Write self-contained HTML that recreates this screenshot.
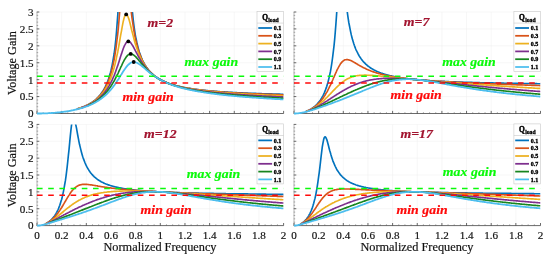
<!DOCTYPE html>
<html><head><meta charset="utf-8"><title>LLC gain curves</title>
<style>
html,body{margin:0;padding:0;background:#fff;}
body{width:550px;height:261px;overflow:hidden;}
svg{display:block;}
svg text{font-family:"Liberation Serif","DejaVu Serif",serif;}
.tk{font-size:11.1px;fill:#111;stroke:#111;stroke-width:0.18px;}
.al{font-size:12.2px;fill:#111;stroke:#111;stroke-width:0.18px;}
.bi{font-weight:bold;font-style:italic;font-size:13.8px;stroke-width:0.2px;letter-spacing:0.05px;}
.lg{font-size:6px;font-weight:bold;fill:#000;stroke:#000;stroke-width:0.35px;}
</style></head><body>
<svg width="550" height="261" viewBox="0 0 550 261">
<rect width="550" height="261" fill="#fff"/>
<defs>
<clipPath id="cp00"><rect x="37.0" y="12.0" width="246.60000000000002" height="103.0"/></clipPath>
<clipPath id="cp01"><rect x="294.0" y="12.0" width="246.5" height="103.0"/></clipPath>
<clipPath id="cp10"><rect x="37.0" y="124.4" width="246.60000000000002" height="102.69999999999999"/></clipPath>
<clipPath id="cp11"><rect x="294.0" y="124.4" width="246.5" height="102.69999999999999"/></clipPath>
</defs>
<g>
<path d="M61.66 12.0V113.5M86.32 12.0V113.5M110.98 12.0V113.5M135.64 12.0V113.5M160.30 12.0V113.5M184.96 12.0V113.5M209.62 12.0V113.5M234.28 12.0V113.5M258.94 12.0V113.5M37.0 96.58H283.6M37.0 79.67H283.6M37.0 62.75H283.6M37.0 45.83H283.6M37.0 28.92H283.6M37.0 12.00H283.6" stroke="#efefef" stroke-width="0.5" fill="none"/>
<path d="M37.0 12.0V113.5" stroke="#8c8c8c" stroke-width="0.6" fill="none"/>
<path d="M37.0 113.5H283.6M37.00 113.5v-2.6M61.66 113.5v-2.6M86.32 113.5v-2.6M110.98 113.5v-2.6M135.64 113.5v-2.6M160.30 113.5v-2.6M184.96 113.5v-2.6M209.62 113.5v-2.6M234.28 113.5v-2.6M258.94 113.5v-2.6M283.60 113.5v-2.6M36.7 113.50h2.6M36.7 96.58h2.6M36.7 79.67h2.6M36.7 62.75h2.6M36.7 45.83h2.6M36.7 28.92h2.6M36.7 12.00h2.6" stroke="#3a3a3a" stroke-width="0.75" fill="none"/>
<path d="M43.16 113.5v-1.4M49.33 113.5v-1.4M55.50 113.5v-1.4M67.83 113.5v-1.4M73.99 113.5v-1.4M80.16 113.5v-1.4M92.49 113.5v-1.4M98.65 113.5v-1.4M104.82 113.5v-1.4M117.15 113.5v-1.4M123.31 113.5v-1.4M129.48 113.5v-1.4M141.81 113.5v-1.4M147.97 113.5v-1.4M154.14 113.5v-1.4M166.47 113.5v-1.4M172.63 113.5v-1.4M178.80 113.5v-1.4M191.12 113.5v-1.4M197.29 113.5v-1.4M203.46 113.5v-1.4M215.79 113.5v-1.4M221.95 113.5v-1.4M228.12 113.5v-1.4M240.45 113.5v-1.4M246.61 113.5v-1.4M252.78 113.5v-1.4M265.11 113.5v-1.4M271.27 113.5v-1.4M277.44 113.5v-1.4M36.7 110.12h1.5M36.7 106.73h1.5M36.7 103.35h1.5M36.7 99.97h1.5M36.7 93.20h1.5M36.7 89.82h1.5M36.7 86.43h1.5M36.7 83.05h1.5M36.7 76.28h1.5M36.7 72.90h1.5M36.7 69.52h1.5M36.7 66.13h1.5M36.7 59.37h1.5M36.7 55.98h1.5M36.7 52.60h1.5M36.7 49.22h1.5M36.7 42.45h1.5M36.7 39.07h1.5M36.7 35.68h1.5M36.7 32.30h1.5M36.7 25.53h1.5M36.7 22.15h1.5M36.7 18.77h1.5M36.7 15.38h1.5" stroke="#555" stroke-width="0.45" fill="none"/>
<g clip-path="url(#cp00)" fill="none" stroke-width="1.65" stroke-linejoin="round">
<polyline stroke="#0072BD" points="76.5,109.1 77.1,109.0 77.7,108.8 78.3,108.6 78.9,108.4 79.5,108.2 80.2,108.0 80.8,107.8 81.4,107.6 82.0,107.4 82.6,107.1 83.2,106.9 83.9,106.6 84.5,106.4 85.1,106.1 85.7,105.8 86.3,105.5 86.9,105.3 87.6,104.9 88.2,104.6 88.8,104.3 89.4,103.9 90.0,103.6 90.6,103.2 91.3,102.8 91.9,102.4 92.5,102.0 93.1,101.6 93.7,101.1 94.3,100.6 95.0,100.1 95.6,99.6 96.2,99.1 96.8,98.5 97.4,97.9 98.0,97.3 98.7,96.6 99.3,95.9 99.9,95.2 100.5,94.5 101.1,93.6 101.7,92.8 102.3,91.9 103.0,90.9 103.6,89.9 104.2,88.9 104.8,87.7 105.4,86.5 106.0,85.2 106.7,83.8 107.3,82.3 107.9,80.7 108.5,79.0 109.1,77.1 109.7,75.0 110.4,72.8 111.0,70.4 111.6,67.7 112.2,64.8 112.8,61.6 113.4,58.0 114.1,54.0 114.7,49.5 115.3,44.3 115.9,38.5 116.5,31.7 117.1,23.9 117.8,14.6 118.4,3.6 119.0,-8.3 119.6,-8.3 120.2,-8.3 120.8,-8.3 121.5,-8.3 122.1,-8.3 122.7,-8.3 123.3,-8.3 123.9,-8.3 124.5,-8.3 125.2,-8.3 125.8,-8.3 126.4,-8.3 127.0,-8.3 127.6,-8.3 128.2,-8.3 128.9,-8.3 129.5,-8.3 130.1,-8.3 130.7,-8.3 131.3,-0.7 131.9,7.0 132.6,13.7 133.2,19.5 133.8,24.6 134.4,29.0 135.0,33.0 135.6,36.6 136.3,39.8 136.9,42.7 137.5,45.3 138.1,47.7 138.7,49.9 139.3,52.0 140.0,53.8 140.6,55.5 141.2,57.2 141.8,58.6 142.4,60.0 143.0,61.3 143.7,62.6 144.3,63.7 144.9,64.8 145.5,65.8 146.1,66.7 146.7,67.6 147.4,68.5 148.0,69.3 148.6,70.1 149.2,70.8 149.8,71.5 150.4,72.2 151.1,72.8 151.7,73.4 152.3,74.0 152.9,74.5 153.5,75.1 154.1,75.6 154.8,76.1 155.4,76.5 156.0,77.0 156.6,77.4 157.2,77.8 157.8,78.2 158.5,78.6 159.1,79.0 159.7,79.3 160.3,79.7 160.9,80.0 161.5,80.3 162.1,80.6 162.8,80.9 163.4,81.2 164.0,81.5 164.6,81.8 165.2,82.0 165.8,82.3 166.5,82.5 167.1,82.8 167.7,83.0 168.3,83.2 168.9,83.5 169.5,83.7 170.2,83.9 170.8,84.1 171.4,84.3 172.0,84.5 172.6,84.7 173.2,84.9 173.9,85.0 174.5,85.2 175.1,85.4 175.7,85.5 176.3,85.7 176.9,85.9 177.6,86.0 178.2,86.2 178.8,86.3 179.4,86.4 180.0,86.6 180.6,86.7 181.3,86.9 181.9,87.0 182.5,87.1 183.1,87.2 183.7,87.4 184.3,87.5 185.0,87.6 185.6,87.7 186.2,87.8 186.8,87.9 187.4,88.0 188.0,88.1 188.7,88.2 189.3,88.3 189.9,88.4 190.5,88.5 191.1,88.6 191.7,88.7 192.4,88.8 193.0,88.9 193.6,89.0 194.2,89.1 194.8,89.2 195.4,89.3 196.1,89.3 196.7,89.4 197.3,89.5 197.9,89.6 198.5,89.6 199.1,89.7 199.8,89.8 200.4,89.9 201.0,89.9 201.6,90.0 202.2,90.1 202.8,90.1 203.5,90.2 204.1,90.3 204.7,90.3 205.3,90.4 205.9,90.5 206.5,90.5 207.2,90.6 207.8,90.6 208.4,90.7 209.0,90.8 209.6,90.8 210.2,90.9 210.9,90.9 211.5,91.0 212.1,91.0 212.7,91.1 213.3,91.1 213.9,91.2 214.6,91.2 215.2,91.3 215.8,91.3 216.4,91.4 217.0,91.4 217.6,91.5 218.3,91.5 218.9,91.6 219.5,91.6 220.1,91.7 220.7,91.7 221.3,91.7 222.0,91.8 222.6,91.8 223.2,91.9 223.8,91.9 224.4,91.9 225.0,92.0 225.6,92.0 226.3,92.1 226.9,92.1 227.5,92.1 228.1,92.2 228.7,92.2 229.3,92.2 230.0,92.3 230.6,92.3 231.2,92.3 231.8,92.4 232.4,92.4 233.0,92.5 233.7,92.5 234.3,92.5 234.9,92.5 235.5,92.6 236.1,92.6 236.7,92.6 237.4,92.7 238.0,92.7 238.6,92.7 239.2,92.8 239.8,92.8 240.4,92.8 241.1,92.8 241.7,92.9 242.3,92.9 242.9,92.9 243.5,93.0 244.1,93.0 244.8,93.0 245.4,93.0 246.0,93.1 246.6,93.1 247.2,93.1 247.8,93.1 248.5,93.2 249.1,93.2 249.7,93.2 250.3,93.2 250.9,93.3 251.5,93.3 252.2,93.3 252.8,93.3 253.4,93.4 254.0,93.4 254.6,93.4 255.2,93.4 255.9,93.4 256.5,93.5 257.1,93.5 257.7,93.5 258.3,93.5 258.9,93.6 259.6,93.6 260.2,93.6 260.8,93.6 261.4,93.6 262.0,93.7 262.6,93.7 263.3,93.7 263.9,93.7 264.5,93.7 265.1,93.7 265.7,93.8 266.3,93.8 267.0,93.8 267.6,93.8 268.2,93.8 268.8,93.9 269.4,93.9 270.0,93.9 270.7,93.9 271.3,93.9 271.9,93.9 272.5,94.0 273.1,94.0 273.7,94.0 274.4,94.0 275.0,94.0 275.6,94.0 276.2,94.1 276.8,94.1 277.4,94.1 278.1,94.1 278.7,94.1 279.3,94.1 279.9,94.1 280.5,94.2 281.1,94.2 281.8,94.2 282.4,94.2 283.0,94.2 283.6,94.2"/>
<polyline stroke="#D95319" points="77.1,109.0 77.7,108.8 78.3,108.6 78.9,108.4 79.5,108.3 80.2,108.1 80.8,107.8 81.4,107.6 82.0,107.4 82.6,107.2 83.2,106.9 83.9,106.7 84.5,106.4 85.1,106.2 85.7,105.9 86.3,105.6 86.9,105.3 87.6,105.0 88.2,104.7 88.8,104.4 89.4,104.1 90.0,103.7 90.6,103.3 91.3,103.0 91.9,102.6 92.5,102.2 93.1,101.7 93.7,101.3 94.3,100.8 95.0,100.4 95.6,99.9 96.2,99.3 96.8,98.8 97.4,98.2 98.0,97.6 98.7,97.0 99.3,96.3 99.9,95.6 100.5,94.9 101.1,94.2 101.7,93.4 102.3,92.5 103.0,91.6 103.6,90.7 104.2,89.7 104.8,88.6 105.4,87.5 106.0,86.3 106.7,85.0 107.3,83.7 107.9,82.2 108.5,80.7 109.1,79.0 109.7,77.3 110.4,75.3 111.0,73.3 111.6,71.0 112.2,68.6 112.8,66.0 113.4,63.1 114.1,59.9 114.7,56.5 115.3,52.7 115.9,48.6 116.5,44.0 117.1,38.9 117.8,33.3 118.4,27.1 119.0,20.2 119.6,12.7 120.2,4.6 120.8,-4.1 121.5,-8.3 122.1,-8.3 122.7,-8.3 123.3,-8.3 123.9,-8.3 124.5,-8.3 125.2,-8.3 125.8,-8.3 126.4,-8.3 127.0,-8.3 127.6,-8.3 128.2,-8.3 128.9,-8.3 129.5,-6.1 130.1,0.4 130.7,6.5 131.3,12.1 131.9,17.2 132.6,21.8 133.2,26.0 133.8,29.9 134.4,33.4 135.0,36.7 135.6,39.6 136.3,42.3 136.9,44.8 137.5,47.1 138.1,49.3 138.7,51.2 139.3,53.1 140.0,54.8 140.6,56.4 141.2,57.9 141.8,59.2 142.4,60.6 143.0,61.8 143.7,62.9 144.3,64.0 144.9,65.1 145.5,66.0 146.1,67.0 146.7,67.8 147.4,68.7 148.0,69.4 148.6,70.2 149.2,70.9 149.8,71.6 150.4,72.2 151.1,72.9 151.7,73.5 152.3,74.0 152.9,74.6 153.5,75.1 154.1,75.6 154.8,76.1 155.4,76.5 156.0,77.0 156.6,77.4 157.2,77.8 157.8,78.2 158.5,78.6 159.1,79.0 159.7,79.3 160.3,79.7 160.9,80.0 161.5,80.3 162.1,80.6 162.8,80.9 163.4,81.2 164.0,81.5 164.6,81.8 165.2,82.0 165.8,82.3 166.5,82.6 167.1,82.8 167.7,83.0 168.3,83.3 168.9,83.5 169.5,83.7 170.2,83.9 170.8,84.1 171.4,84.3 172.0,84.5 172.6,84.7 173.2,84.9 173.9,85.1 174.5,85.2 175.1,85.4 175.7,85.6 176.3,85.7 176.9,85.9 177.6,86.1 178.2,86.2 178.8,86.4 179.4,86.5 180.0,86.6 180.6,86.8 181.3,86.9 181.9,87.1 182.5,87.2 183.1,87.3 183.7,87.4 184.3,87.6 185.0,87.7 185.6,87.8 186.2,87.9 186.8,88.0 187.4,88.1 188.0,88.2 188.7,88.3 189.3,88.4 189.9,88.5 190.5,88.6 191.1,88.7 191.7,88.8 192.4,88.9 193.0,89.0 193.6,89.1 194.2,89.2 194.8,89.3 195.4,89.4 196.1,89.5 196.7,89.5 197.3,89.6 197.9,89.7 198.5,89.8 199.1,89.9 199.8,89.9 200.4,90.0 201.0,90.1 201.6,90.2 202.2,90.2 202.8,90.3 203.5,90.4 204.1,90.4 204.7,90.5 205.3,90.6 205.9,90.6 206.5,90.7 207.2,90.8 207.8,90.8 208.4,90.9 209.0,90.9 209.6,91.0 210.2,91.1 210.9,91.1 211.5,91.2 212.1,91.2 212.7,91.3 213.3,91.3 213.9,91.4 214.6,91.4 215.2,91.5 215.8,91.5 216.4,91.6 217.0,91.6 217.6,91.7 218.3,91.7 218.9,91.8 219.5,91.8 220.1,91.9 220.7,91.9 221.3,92.0 222.0,92.0 222.6,92.1 223.2,92.1 223.8,92.2 224.4,92.2 225.0,92.2 225.6,92.3 226.3,92.3 226.9,92.4 227.5,92.4 228.1,92.4 228.7,92.5 229.3,92.5 230.0,92.6 230.6,92.6 231.2,92.6 231.8,92.7 232.4,92.7 233.0,92.7 233.7,92.8 234.3,92.8 234.9,92.9 235.5,92.9 236.1,92.9 236.7,93.0 237.4,93.0 238.0,93.0 238.6,93.1 239.2,93.1 239.8,93.1 240.4,93.1 241.1,93.2 241.7,93.2 242.3,93.2 242.9,93.3 243.5,93.3 244.1,93.3 244.8,93.4 245.4,93.4 246.0,93.4 246.6,93.4 247.2,93.5 247.8,93.5 248.5,93.5 249.1,93.6 249.7,93.6 250.3,93.6 250.9,93.6 251.5,93.7 252.2,93.7 252.8,93.7 253.4,93.7 254.0,93.8 254.6,93.8 255.2,93.8 255.9,93.8 256.5,93.9 257.1,93.9 257.7,93.9 258.3,93.9 258.9,94.0 259.6,94.0 260.2,94.0 260.8,94.0 261.4,94.1 262.0,94.1 262.6,94.1 263.3,94.1 263.9,94.1 264.5,94.2 265.1,94.2 265.7,94.2 266.3,94.2 267.0,94.3 267.6,94.3 268.2,94.3 268.8,94.3 269.4,94.3 270.0,94.4 270.7,94.4 271.3,94.4 271.9,94.4 272.5,94.4 273.1,94.5 273.7,94.5 274.4,94.5 275.0,94.5 275.6,94.5 276.2,94.6 276.8,94.6 277.4,94.6 278.1,94.6 278.7,94.6 279.3,94.7 279.9,94.7 280.5,94.7 281.1,94.7 281.8,94.7 282.4,94.7 283.0,94.8 283.6,94.8"/>
<polyline stroke="#EDB120" points="78.9,108.5 79.5,108.3 80.2,108.1 80.8,107.9 81.4,107.7 82.0,107.5 82.6,107.3 83.2,107.0 83.9,106.8 84.5,106.6 85.1,106.3 85.7,106.0 86.3,105.8 86.9,105.5 87.6,105.2 88.2,104.9 88.8,104.6 89.4,104.3 90.0,103.9 90.6,103.6 91.3,103.2 91.9,102.9 92.5,102.5 93.1,102.1 93.7,101.7 94.3,101.2 95.0,100.8 95.6,100.3 96.2,99.8 96.8,99.3 97.4,98.8 98.0,98.2 98.7,97.7 99.3,97.1 99.9,96.4 100.5,95.8 101.1,95.1 101.7,94.4 102.3,93.6 103.0,92.8 103.6,92.0 104.2,91.1 104.8,90.2 105.4,89.2 106.0,88.2 106.7,87.1 107.3,86.0 107.9,84.8 108.5,83.5 109.1,82.2 109.7,80.7 110.4,79.2 111.0,77.6 111.6,75.9 112.2,74.1 112.8,72.2 113.4,70.1 114.1,67.9 114.7,65.6 115.3,63.1 115.9,60.5 116.5,57.7 117.1,54.8 117.8,51.7 118.4,48.4 119.0,45.0 119.6,41.5 120.2,37.9 120.8,34.3 121.5,30.8 122.1,27.3 122.7,24.1 123.3,21.2 123.9,18.7 124.5,16.7 125.2,15.3 125.8,14.5 126.4,14.4 127.0,14.8 127.6,15.8 128.2,17.3 128.9,19.1 129.5,21.2 130.1,23.5 130.7,26.0 131.3,28.5 131.9,31.0 132.6,33.5 133.2,35.9 133.8,38.2 134.4,40.5 135.0,42.7 135.6,44.7 136.3,46.7 136.9,48.6 137.5,50.3 138.1,52.0 138.7,53.6 139.3,55.1 140.0,56.5 140.6,57.9 141.2,59.2 141.8,60.4 142.4,61.6 143.0,62.7 143.7,63.7 144.3,64.7 144.9,65.6 145.5,66.5 146.1,67.4 146.7,68.2 147.4,69.0 148.0,69.7 148.6,70.4 149.2,71.1 149.8,71.8 150.4,72.4 151.1,73.0 151.7,73.6 152.3,74.1 152.9,74.6 153.5,75.1 154.1,75.6 154.8,76.1 155.4,76.6 156.0,77.0 156.6,77.4 157.2,77.8 157.8,78.2 158.5,78.6 159.1,79.0 159.7,79.3 160.3,79.7 160.9,80.0 161.5,80.3 162.1,80.6 162.8,80.9 163.4,81.2 164.0,81.5 164.6,81.8 165.2,82.1 165.8,82.3 166.5,82.6 167.1,82.8 167.7,83.1 168.3,83.3 168.9,83.5 169.5,83.7 170.2,84.0 170.8,84.2 171.4,84.4 172.0,84.6 172.6,84.8 173.2,85.0 173.9,85.1 174.5,85.3 175.1,85.5 175.7,85.7 176.3,85.8 176.9,86.0 177.6,86.2 178.2,86.3 178.8,86.5 179.4,86.6 180.0,86.8 180.6,86.9 181.3,87.1 181.9,87.2 182.5,87.3 183.1,87.5 183.7,87.6 184.3,87.7 185.0,87.8 185.6,88.0 186.2,88.1 186.8,88.2 187.4,88.3 188.0,88.4 188.7,88.5 189.3,88.6 189.9,88.7 190.5,88.9 191.1,89.0 191.7,89.1 192.4,89.2 193.0,89.3 193.6,89.3 194.2,89.4 194.8,89.5 195.4,89.6 196.1,89.7 196.7,89.8 197.3,89.9 197.9,90.0 198.5,90.1 199.1,90.1 199.8,90.2 200.4,90.3 201.0,90.4 201.6,90.5 202.2,90.5 202.8,90.6 203.5,90.7 204.1,90.8 204.7,90.8 205.3,90.9 205.9,91.0 206.5,91.0 207.2,91.1 207.8,91.2 208.4,91.2 209.0,91.3 209.6,91.4 210.2,91.4 210.9,91.5 211.5,91.6 212.1,91.6 212.7,91.7 213.3,91.7 213.9,91.8 214.6,91.9 215.2,91.9 215.8,92.0 216.4,92.0 217.0,92.1 217.6,92.1 218.3,92.2 218.9,92.2 219.5,92.3 220.1,92.3 220.7,92.4 221.3,92.4 222.0,92.5 222.6,92.5 223.2,92.6 223.8,92.6 224.4,92.7 225.0,92.7 225.6,92.8 226.3,92.8 226.9,92.9 227.5,92.9 228.1,93.0 228.7,93.0 229.3,93.0 230.0,93.1 230.6,93.1 231.2,93.2 231.8,93.2 232.4,93.3 233.0,93.3 233.7,93.3 234.3,93.4 234.9,93.4 235.5,93.5 236.1,93.5 236.7,93.5 237.4,93.6 238.0,93.6 238.6,93.7 239.2,93.7 239.8,93.7 240.4,93.8 241.1,93.8 241.7,93.8 242.3,93.9 242.9,93.9 243.5,93.9 244.1,94.0 244.8,94.0 245.4,94.0 246.0,94.1 246.6,94.1 247.2,94.1 247.8,94.2 248.5,94.2 249.1,94.2 249.7,94.3 250.3,94.3 250.9,94.3 251.5,94.4 252.2,94.4 252.8,94.4 253.4,94.5 254.0,94.5 254.6,94.5 255.2,94.6 255.9,94.6 256.5,94.6 257.1,94.6 257.7,94.7 258.3,94.7 258.9,94.7 259.6,94.8 260.2,94.8 260.8,94.8 261.4,94.8 262.0,94.9 262.6,94.9 263.3,94.9 263.9,94.9 264.5,95.0 265.1,95.0 265.7,95.0 266.3,95.1 267.0,95.1 267.6,95.1 268.2,95.1 268.8,95.2 269.4,95.2 270.0,95.2 270.7,95.2 271.3,95.3 271.9,95.3 272.5,95.3 273.1,95.3 273.7,95.4 274.4,95.4 275.0,95.4 275.6,95.4 276.2,95.5 276.8,95.5 277.4,95.5 278.1,95.5 278.7,95.5 279.3,95.6 279.9,95.6 280.5,95.6 281.1,95.6 281.8,95.7 282.4,95.7 283.0,95.7 283.6,95.7"/>
<polyline stroke="#7E2F8E" points="81.4,107.8 82.0,107.6 82.6,107.4 83.2,107.2 83.9,107.0 84.5,106.7 85.1,106.5 85.7,106.2 86.3,106.0 86.9,105.7 87.6,105.5 88.2,105.2 88.8,104.9 89.4,104.6 90.0,104.3 90.6,104.0 91.3,103.6 91.9,103.3 92.5,102.9 93.1,102.6 93.7,102.2 94.3,101.8 95.0,101.4 95.6,100.9 96.2,100.5 96.8,100.1 97.4,99.6 98.0,99.1 98.7,98.6 99.3,98.1 99.9,97.5 100.5,96.9 101.1,96.3 101.7,95.7 102.3,95.1 103.0,94.4 103.6,93.7 104.2,93.0 104.8,92.2 105.4,91.4 106.0,90.6 106.7,89.7 107.3,88.8 107.9,87.8 108.5,86.8 109.1,85.8 109.7,84.7 110.4,83.6 111.0,82.4 111.6,81.2 112.2,79.9 112.8,78.5 113.4,77.1 114.1,75.6 114.7,74.1 115.3,72.5 115.9,70.8 116.5,69.1 117.1,67.3 117.8,65.4 118.4,63.6 119.0,61.7 119.6,59.7 120.2,57.8 120.8,55.8 121.5,53.9 122.1,52.1 122.7,50.3 123.3,48.6 123.9,47.0 124.5,45.6 125.2,44.4 125.8,43.3 126.4,42.5 127.0,41.9 127.6,41.5 128.2,41.4 128.9,41.5 129.5,41.8 130.1,42.2 130.7,42.8 131.3,43.6 131.9,44.5 132.6,45.5 133.2,46.5 133.8,47.6 134.4,48.8 135.0,50.0 135.6,51.1 136.3,52.3 136.9,53.5 137.5,54.7 138.1,55.8 138.7,56.9 139.3,58.0 140.0,59.1 140.6,60.1 141.2,61.1 141.8,62.1 142.4,63.1 143.0,64.0 143.7,64.8 144.3,65.7 144.9,66.5 145.5,67.3 146.1,68.0 146.7,68.8 147.4,69.5 148.0,70.1 148.6,70.8 149.2,71.4 149.8,72.0 150.4,72.6 151.1,73.2 151.7,73.7 152.3,74.2 152.9,74.7 153.5,75.2 154.1,75.7 154.8,76.2 155.4,76.6 156.0,77.0 156.6,77.4 157.2,77.8 157.8,78.2 158.5,78.6 159.1,79.0 159.7,79.3 160.3,79.7 160.9,80.0 161.5,80.3 162.1,80.6 162.8,80.9 163.4,81.2 164.0,81.5 164.6,81.8 165.2,82.1 165.8,82.3 166.5,82.6 167.1,82.9 167.7,83.1 168.3,83.3 168.9,83.6 169.5,83.8 170.2,84.0 170.8,84.2 171.4,84.5 172.0,84.7 172.6,84.9 173.2,85.1 173.9,85.3 174.5,85.4 175.1,85.6 175.7,85.8 176.3,86.0 176.9,86.2 177.6,86.3 178.2,86.5 178.8,86.6 179.4,86.8 180.0,87.0 180.6,87.1 181.3,87.3 181.9,87.4 182.5,87.5 183.1,87.7 183.7,87.8 184.3,88.0 185.0,88.1 185.6,88.2 186.2,88.3 186.8,88.5 187.4,88.6 188.0,88.7 188.7,88.8 189.3,88.9 189.9,89.1 190.5,89.2 191.1,89.3 191.7,89.4 192.4,89.5 193.0,89.6 193.6,89.7 194.2,89.8 194.8,89.9 195.4,90.0 196.1,90.1 196.7,90.2 197.3,90.3 197.9,90.4 198.5,90.5 199.1,90.6 199.8,90.7 200.4,90.7 201.0,90.8 201.6,90.9 202.2,91.0 202.8,91.1 203.5,91.2 204.1,91.2 204.7,91.3 205.3,91.4 205.9,91.5 206.5,91.6 207.2,91.6 207.8,91.7 208.4,91.8 209.0,91.9 209.6,91.9 210.2,92.0 210.9,92.1 211.5,92.1 212.1,92.2 212.7,92.3 213.3,92.3 213.9,92.4 214.6,92.5 215.2,92.5 215.8,92.6 216.4,92.7 217.0,92.7 217.6,92.8 218.3,92.8 218.9,92.9 219.5,93.0 220.1,93.0 220.7,93.1 221.3,93.1 222.0,93.2 222.6,93.2 223.2,93.3 223.8,93.3 224.4,93.4 225.0,93.5 225.6,93.5 226.3,93.6 226.9,93.6 227.5,93.7 228.1,93.7 228.7,93.8 229.3,93.8 230.0,93.9 230.6,93.9 231.2,94.0 231.8,94.0 232.4,94.1 233.0,94.1 233.7,94.2 234.3,94.2 234.9,94.2 235.5,94.3 236.1,94.3 236.7,94.4 237.4,94.4 238.0,94.5 238.6,94.5 239.2,94.6 239.8,94.6 240.4,94.6 241.1,94.7 241.7,94.7 242.3,94.8 242.9,94.8 243.5,94.9 244.1,94.9 244.8,94.9 245.4,95.0 246.0,95.0 246.6,95.1 247.2,95.1 247.8,95.1 248.5,95.2 249.1,95.2 249.7,95.2 250.3,95.3 250.9,95.3 251.5,95.4 252.2,95.4 252.8,95.4 253.4,95.5 254.0,95.5 254.6,95.5 255.2,95.6 255.9,95.6 256.5,95.6 257.1,95.7 257.7,95.7 258.3,95.8 258.9,95.8 259.6,95.8 260.2,95.9 260.8,95.9 261.4,95.9 262.0,96.0 262.6,96.0 263.3,96.0 263.9,96.1 264.5,96.1 265.1,96.1 265.7,96.1 266.3,96.2 267.0,96.2 267.6,96.2 268.2,96.3 268.8,96.3 269.4,96.3 270.0,96.4 270.7,96.4 271.3,96.4 271.9,96.5 272.5,96.5 273.1,96.5 273.7,96.5 274.4,96.6 275.0,96.6 275.6,96.6 276.2,96.7 276.8,96.7 277.4,96.7 278.1,96.8 278.7,96.8 279.3,96.8 279.9,96.8 280.5,96.9 281.1,96.9 281.8,96.9 282.4,96.9 283.0,97.0 283.6,97.0"/>
<polyline stroke="#17851F" points="87.6,105.7 88.2,105.5 88.8,105.2 89.4,104.9 90.0,104.6 90.6,104.3 91.3,104.0 91.9,103.7 92.5,103.4 93.1,103.0 93.7,102.7 94.3,102.3 95.0,102.0 95.6,101.6 96.2,101.2 96.8,100.8 97.4,100.4 98.0,99.9 98.7,99.5 99.3,99.0 99.9,98.5 100.5,98.0 101.1,97.5 101.7,97.0 102.3,96.4 103.0,95.8 103.6,95.3 104.2,94.6 104.8,94.0 105.4,93.3 106.0,92.6 106.7,91.9 107.3,91.2 107.9,90.4 108.5,89.6 109.1,88.8 109.7,87.9 110.4,87.0 111.0,86.1 111.6,85.2 112.2,84.2 112.8,83.1 113.4,82.1 114.1,81.0 114.7,79.9 115.3,78.7 115.9,77.5 116.5,76.3 117.1,75.0 117.8,73.8 118.4,72.5 119.0,71.1 119.6,69.8 120.2,68.5 120.8,67.1 121.5,65.8 122.1,64.5 122.7,63.2 123.3,62.0 123.9,60.8 124.5,59.7 125.2,58.6 125.8,57.7 126.4,56.8 127.0,56.1 127.6,55.4 128.2,54.9 128.9,54.4 129.5,54.2 130.1,54.0 130.7,53.9 131.3,54.0 131.9,54.1 132.6,54.4 133.2,54.7 133.8,55.1 134.4,55.6 135.0,56.2 135.6,56.7 136.3,57.4 136.9,58.1 137.5,58.8 138.1,59.5 138.7,60.2 139.3,61.0 140.0,61.7 140.6,62.4 141.2,63.2 141.8,63.9 142.4,64.6 143.0,65.4 143.7,66.1 144.3,66.8 144.9,67.4 145.5,68.1 146.1,68.8 146.7,69.4 147.4,70.0 148.0,70.6 148.6,71.2 149.2,71.8 149.8,72.3 150.4,72.8 151.1,73.4 151.7,73.9 152.3,74.4 152.9,74.9 153.5,75.3 154.1,75.8 154.8,76.2 155.4,76.6 156.0,77.1 156.6,77.5 157.2,77.9 157.8,78.2 158.5,78.6 159.1,79.0 159.7,79.3 160.3,79.7 160.9,80.0 161.5,80.3 162.1,80.6 162.8,81.0 163.4,81.3 164.0,81.5 164.6,81.8 165.2,82.1 165.8,82.4 166.5,82.6 167.1,82.9 167.7,83.2 168.3,83.4 168.9,83.6 169.5,83.9 170.2,84.1 170.8,84.3 171.4,84.6 172.0,84.8 172.6,85.0 173.2,85.2 173.9,85.4 174.5,85.6 175.1,85.8 175.7,86.0 176.3,86.1 176.9,86.3 177.6,86.5 178.2,86.7 178.8,86.8 179.4,87.0 180.0,87.2 180.6,87.3 181.3,87.5 181.9,87.6 182.5,87.8 183.1,87.9 183.7,88.1 184.3,88.2 185.0,88.4 185.6,88.5 186.2,88.6 186.8,88.8 187.4,88.9 188.0,89.0 188.7,89.2 189.3,89.3 189.9,89.4 190.5,89.5 191.1,89.7 191.7,89.8 192.4,89.9 193.0,90.0 193.6,90.1 194.2,90.2 194.8,90.3 195.4,90.4 196.1,90.5 196.7,90.6 197.3,90.7 197.9,90.8 198.5,90.9 199.1,91.0 199.8,91.1 200.4,91.2 201.0,91.3 201.6,91.4 202.2,91.5 202.8,91.6 203.5,91.7 204.1,91.8 204.7,91.9 205.3,92.0 205.9,92.0 206.5,92.1 207.2,92.2 207.8,92.3 208.4,92.4 209.0,92.4 209.6,92.5 210.2,92.6 210.9,92.7 211.5,92.7 212.1,92.8 212.7,92.9 213.3,93.0 213.9,93.0 214.6,93.1 215.2,93.2 215.8,93.3 216.4,93.3 217.0,93.4 217.6,93.5 218.3,93.5 218.9,93.6 219.5,93.7 220.1,93.7 220.7,93.8 221.3,93.8 222.0,93.9 222.6,94.0 223.2,94.0 223.8,94.1 224.4,94.2 225.0,94.2 225.6,94.3 226.3,94.3 226.9,94.4 227.5,94.4 228.1,94.5 228.7,94.6 229.3,94.6 230.0,94.7 230.6,94.7 231.2,94.8 231.8,94.8 232.4,94.9 233.0,94.9 233.7,95.0 234.3,95.0 234.9,95.1 235.5,95.1 236.1,95.2 236.7,95.2 237.4,95.3 238.0,95.3 238.6,95.4 239.2,95.4 239.8,95.5 240.4,95.5 241.1,95.6 241.7,95.6 242.3,95.7 242.9,95.7 243.5,95.8 244.1,95.8 244.8,95.9 245.4,95.9 246.0,96.0 246.6,96.0 247.2,96.0 247.8,96.1 248.5,96.1 249.1,96.2 249.7,96.2 250.3,96.3 250.9,96.3 251.5,96.3 252.2,96.4 252.8,96.4 253.4,96.5 254.0,96.5 254.6,96.5 255.2,96.6 255.9,96.6 256.5,96.7 257.1,96.7 257.7,96.7 258.3,96.8 258.9,96.8 259.6,96.9 260.2,96.9 260.8,96.9 261.4,97.0 262.0,97.0 262.6,97.0 263.3,97.1 263.9,97.1 264.5,97.2 265.1,97.2 265.7,97.2 266.3,97.3 267.0,97.3 267.6,97.3 268.2,97.4 268.8,97.4 269.4,97.4 270.0,97.5 270.7,97.5 271.3,97.5 271.9,97.6 272.5,97.6 273.1,97.6 273.7,97.7 274.4,97.7 275.0,97.7 275.6,97.8 276.2,97.8 276.8,97.8 277.4,97.9 278.1,97.9 278.7,97.9 279.3,98.0 279.9,98.0 280.5,98.0 281.1,98.1 281.8,98.1 282.4,98.1 283.0,98.2 283.6,98.2"/>
<polyline stroke="#4DBEEE" stroke-width="1.8" points="37.0,113.5 37.6,113.5 38.2,113.5 38.8,113.5 39.5,113.5 40.1,113.5 40.7,113.5 41.3,113.5 41.9,113.4 42.5,113.4 43.2,113.4 43.8,113.4 44.4,113.4 45.0,113.4 45.6,113.3 46.2,113.3 46.9,113.3 47.5,113.3 48.1,113.2 48.7,113.2 49.3,113.2 49.9,113.1 50.6,113.1 51.2,113.0 51.8,113.0 52.4,113.0 53.0,112.9 53.6,112.9 54.3,112.8 54.9,112.8 55.5,112.7 56.1,112.7 56.7,112.6 57.3,112.5 58.0,112.5 58.6,112.4 59.2,112.4 59.8,112.3 60.4,112.2 61.0,112.1 61.7,112.1 62.3,112.0 62.9,111.9 63.5,111.8 64.1,111.7 64.7,111.7 65.4,111.6 66.0,111.5 66.6,111.4 67.2,111.3 67.8,111.2 68.4,111.1 69.1,111.0 69.7,110.9 70.3,110.8 70.9,110.6 71.5,110.5 72.1,110.4 72.8,110.3 73.4,110.1 74.0,110.0 74.6,109.9 75.2,109.7 75.8,109.6 76.5,109.5 77.1,109.3 77.7,109.1 78.3,109.0 78.9,108.8 79.5,108.7 80.2,108.5 80.8,108.3 81.4,108.1 82.0,107.9 82.6,107.8 83.2,107.6 83.9,107.4 84.5,107.2 85.1,106.9 85.7,106.7 86.3,106.5 86.9,106.3 87.6,106.0 88.2,105.8 88.8,105.6 89.4,105.3 90.0,105.0 90.6,104.8 91.3,104.5 91.9,104.2 92.5,103.9 93.1,103.6 93.7,103.3 94.3,103.0 95.0,102.6 95.6,102.3 96.2,102.0 96.8,101.6 97.4,101.2 98.0,100.8 98.7,100.5 99.3,100.0 99.9,99.6 100.5,99.2 101.1,98.8 101.7,98.3 102.3,97.8 103.0,97.3 103.6,96.8 104.2,96.3 104.8,95.8 105.4,95.2 106.0,94.7 106.7,94.1 107.3,93.5 107.9,92.9 108.5,92.2 109.1,91.6 109.7,90.9 110.4,90.2 111.0,89.5 111.6,88.7 112.2,88.0 112.8,87.2 113.4,86.4 114.1,85.5 114.7,84.7 115.3,83.8 115.9,82.9 116.5,82.0 117.1,81.1 117.8,80.1 118.4,79.2 119.0,78.2 119.6,77.2 120.2,76.2 120.8,75.3 121.5,74.3 122.1,73.3 122.7,72.3 123.3,71.3 123.9,70.4 124.5,69.5 125.2,68.6 125.8,67.7 126.4,66.9 127.0,66.2 127.6,65.4 128.2,64.8 128.9,64.2 129.5,63.7 130.1,63.2 130.7,62.8 131.3,62.5 131.9,62.3 132.6,62.1 133.2,62.0 133.8,62.0 134.4,62.0 135.0,62.1 135.6,62.3 136.3,62.5 136.9,62.8 137.5,63.1 138.1,63.4 138.7,63.8 139.3,64.2 140.0,64.6 140.6,65.1 141.2,65.6 141.8,66.0 142.4,66.5 143.0,67.1 143.7,67.6 144.3,68.1 144.9,68.6 145.5,69.1 146.1,69.7 146.7,70.2 147.4,70.7 148.0,71.2 148.6,71.7 149.2,72.2 149.8,72.7 150.4,73.2 151.1,73.6 151.7,74.1 152.3,74.6 152.9,75.0 153.5,75.4 154.1,75.9 154.8,76.3 155.4,76.7 156.0,77.1 156.6,77.5 157.2,77.9 157.8,78.2 158.5,78.6 159.1,79.0 159.7,79.3 160.3,79.7 160.9,80.0 161.5,80.3 162.1,80.6 162.8,81.0 163.4,81.3 164.0,81.6 164.6,81.9 165.2,82.1 165.8,82.4 166.5,82.7 167.1,83.0 167.7,83.2 168.3,83.5 168.9,83.7 169.5,84.0 170.2,84.2 170.8,84.4 171.4,84.7 172.0,84.9 172.6,85.1 173.2,85.3 173.9,85.5 174.5,85.8 175.1,86.0 175.7,86.2 176.3,86.4 176.9,86.5 177.6,86.7 178.2,86.9 178.8,87.1 179.4,87.3 180.0,87.5 180.6,87.6 181.3,87.8 181.9,88.0 182.5,88.1 183.1,88.3 183.7,88.4 184.3,88.6 185.0,88.7 185.6,88.9 186.2,89.0 186.8,89.2 187.4,89.3 188.0,89.5 188.7,89.6 189.3,89.7 189.9,89.9 190.5,90.0 191.1,90.1 191.7,90.2 192.4,90.4 193.0,90.5 193.6,90.6 194.2,90.7 194.8,90.9 195.4,91.0 196.1,91.1 196.7,91.2 197.3,91.3 197.9,91.4 198.5,91.5 199.1,91.6 199.8,91.7 200.4,91.8 201.0,91.9 201.6,92.0 202.2,92.1 202.8,92.2 203.5,92.3 204.1,92.4 204.7,92.5 205.3,92.6 205.9,92.7 206.5,92.8 207.2,92.9 207.8,93.0 208.4,93.1 209.0,93.2 209.6,93.2 210.2,93.3 210.9,93.4 211.5,93.5 212.1,93.6 212.7,93.7 213.3,93.7 213.9,93.8 214.6,93.9 215.2,94.0 215.8,94.0 216.4,94.1 217.0,94.2 217.6,94.3 218.3,94.3 218.9,94.4 219.5,94.5 220.1,94.6 220.7,94.6 221.3,94.7 222.0,94.8 222.6,94.8 223.2,94.9 223.8,95.0 224.4,95.0 225.0,95.1 225.6,95.2 226.3,95.2 226.9,95.3 227.5,95.4 228.1,95.4 228.7,95.5 229.3,95.5 230.0,95.6 230.6,95.7 231.2,95.7 231.8,95.8 232.4,95.8 233.0,95.9 233.7,95.9 234.3,96.0 234.9,96.1 235.5,96.1 236.1,96.2 236.7,96.2 237.4,96.3 238.0,96.3 238.6,96.4 239.2,96.4 239.8,96.5 240.4,96.6 241.1,96.6 241.7,96.7 242.3,96.7 242.9,96.8 243.5,96.8 244.1,96.9 244.8,96.9 245.4,97.0 246.0,97.0 246.6,97.1 247.2,97.1 247.8,97.1 248.5,97.2 249.1,97.2 249.7,97.3 250.3,97.3 250.9,97.4 251.5,97.4 252.2,97.5 252.8,97.5 253.4,97.6 254.0,97.6 254.6,97.7 255.2,97.7 255.9,97.7 256.5,97.8 257.1,97.8 257.7,97.9 258.3,97.9 258.9,98.0 259.6,98.0 260.2,98.0 260.8,98.1 261.4,98.1 262.0,98.2 262.6,98.2 263.3,98.2 263.9,98.3 264.5,98.3 265.1,98.4 265.7,98.4 266.3,98.4 267.0,98.5 267.6,98.5 268.2,98.5 268.8,98.6 269.4,98.6 270.0,98.7 270.7,98.7 271.3,98.7 271.9,98.8 272.5,98.8 273.1,98.8 273.7,98.9 274.4,98.9 275.0,99.0 275.6,99.0 276.2,99.0 276.8,99.1 277.4,99.1 278.1,99.1 278.7,99.2 279.3,99.2 279.9,99.2 280.5,99.3 281.1,99.3 281.8,99.3 282.4,99.4 283.0,99.4 283.6,99.4"/>
<path d="M37.0 76.28H283.6" stroke="#0AFA0A" stroke-width="1.45" stroke-dasharray="5.6 5.6"/>
<path d="M37.0 83.05H283.6" stroke="#FF0A0A" stroke-width="1.45" stroke-dasharray="5.6 5.6"/>
</g>
<circle cx="126.2" cy="14.4" r="1.9" fill="#000"/>
<circle cx="128.3" cy="41.4" r="1.9" fill="#000"/>
<circle cx="130.7" cy="53.9" r="1.9" fill="#000"/>
<circle cx="133.7" cy="62.0" r="1.9" fill="#000"/>
<text class="tk" x="33.5" y="117.3" text-anchor="end">0</text>
<text class="tk" x="33.5" y="100.4" text-anchor="end">0.5</text>
<text class="tk" x="33.5" y="83.5" text-anchor="end">1</text>
<text class="tk" x="33.5" y="66.5" text-anchor="end">1.5</text>
<text class="tk" x="33.5" y="49.6" text-anchor="end">2</text>
<text class="tk" x="33.5" y="32.7" text-anchor="end">2.5</text>
<text class="tk" x="33.5" y="15.8" text-anchor="end">3</text>
<text class="al" transform="translate(15.5 63.1) rotate(-90)" text-anchor="middle">Voltage Gain</text>
<text class="bi" transform="translate(147.6 27.05) scale(1 0.97)" fill="#A2142F" stroke="#A2142F">m=2</text>
<text class="bi" transform="translate(184.6 65.8) scale(1 0.9)" fill="#0AFA0A" stroke="#0AFA0A">max gain</text>
<text class="bi" transform="translate(122.4 100.5) scale(1 0.9)" fill="#FF0A0A" stroke="#FF0A0A">min gain</text>
<rect x="257.0" y="11.5" width="26.600000000000023" height="60.0" fill="#fff" stroke="#c8c8c8" stroke-width="0.6"/>
<path d="M257.0 23.1H283.6" stroke="#c8c8c8" stroke-width="0.6"/>
<text class="lg" x="262.2" y="19.6" style="font-size:7.4px;stroke-width:0.45px">Q<tspan style="font-size:5.7px;stroke-width:0.3px" dx="0.3" dy="2.3">load</tspan></text>
<path d="M258.3 28.00h13.8" stroke="#0072BD" stroke-width="1.75"/>
<text class="lg" x="273.8" y="30.20">0.1</text>
<path d="M258.3 35.80h13.8" stroke="#D95319" stroke-width="1.75"/>
<text class="lg" x="273.8" y="38.00">0.3</text>
<path d="M258.3 43.60h13.8" stroke="#EDB120" stroke-width="1.75"/>
<text class="lg" x="273.8" y="45.80">0.5</text>
<path d="M258.3 51.40h13.8" stroke="#7E2F8E" stroke-width="1.75"/>
<text class="lg" x="273.8" y="53.60">0.7</text>
<path d="M258.3 59.20h13.8" stroke="#17851F" stroke-width="1.75"/>
<text class="lg" x="273.8" y="61.40">0.9</text>
<path d="M258.3 67.00h13.8" stroke="#4DBEEE" stroke-width="1.75"/>
<text class="lg" x="273.8" y="69.20">1.1</text>
</g>
<g>
<path d="M318.65 12.0V113.5M343.30 12.0V113.5M367.95 12.0V113.5M392.60 12.0V113.5M417.25 12.0V113.5M441.90 12.0V113.5M466.55 12.0V113.5M491.20 12.0V113.5M515.85 12.0V113.5M294.0 96.58H540.5M294.0 79.67H540.5M294.0 62.75H540.5M294.0 45.83H540.5M294.0 28.92H540.5M294.0 12.00H540.5" stroke="#efefef" stroke-width="0.5" fill="none"/>
<path d="M294.0 12.0V113.5" stroke="#8c8c8c" stroke-width="0.6" fill="none"/>
<path d="M294.0 113.5H540.5M294.00 113.5v-2.6M318.65 113.5v-2.6M343.30 113.5v-2.6M367.95 113.5v-2.6M392.60 113.5v-2.6M417.25 113.5v-2.6M441.90 113.5v-2.6M466.55 113.5v-2.6M491.20 113.5v-2.6M515.85 113.5v-2.6M540.50 113.5v-2.6M293.7 113.50h2.6M293.7 96.58h2.6M293.7 79.67h2.6M293.7 62.75h2.6M293.7 45.83h2.6M293.7 28.92h2.6M293.7 12.00h2.6" stroke="#3a3a3a" stroke-width="0.75" fill="none"/>
<path d="M300.16 113.5v-1.4M306.32 113.5v-1.4M312.49 113.5v-1.4M324.81 113.5v-1.4M330.98 113.5v-1.4M337.14 113.5v-1.4M349.46 113.5v-1.4M355.62 113.5v-1.4M361.79 113.5v-1.4M374.11 113.5v-1.4M380.27 113.5v-1.4M386.44 113.5v-1.4M398.76 113.5v-1.4M404.93 113.5v-1.4M411.09 113.5v-1.4M423.41 113.5v-1.4M429.58 113.5v-1.4M435.74 113.5v-1.4M448.06 113.5v-1.4M454.23 113.5v-1.4M460.39 113.5v-1.4M472.71 113.5v-1.4M478.88 113.5v-1.4M485.04 113.5v-1.4M497.36 113.5v-1.4M503.53 113.5v-1.4M509.69 113.5v-1.4M522.01 113.5v-1.4M528.17 113.5v-1.4M534.34 113.5v-1.4M293.7 110.12h1.5M293.7 106.73h1.5M293.7 103.35h1.5M293.7 99.97h1.5M293.7 93.20h1.5M293.7 89.82h1.5M293.7 86.43h1.5M293.7 83.05h1.5M293.7 76.28h1.5M293.7 72.90h1.5M293.7 69.52h1.5M293.7 66.13h1.5M293.7 59.37h1.5M293.7 55.98h1.5M293.7 52.60h1.5M293.7 49.22h1.5M293.7 42.45h1.5M293.7 39.07h1.5M293.7 35.68h1.5M293.7 32.30h1.5M293.7 25.53h1.5M293.7 22.15h1.5M293.7 18.77h1.5M293.7 15.38h1.5" stroke="#555" stroke-width="0.45" fill="none"/>
<g clip-path="url(#cp01)" fill="none" stroke-width="1.65" stroke-linejoin="round">
<polyline stroke="#0072BD" points="305.7,111.5 306.3,111.3 306.9,111.1 307.6,110.8 308.2,110.5 308.8,110.3 309.4,110.0 310.0,109.6 310.6,109.3 311.3,108.9 311.9,108.5 312.5,108.1 313.1,107.7 313.7,107.2 314.3,106.7 315.0,106.2 315.6,105.7 316.2,105.1 316.8,104.5 317.4,103.8 318.0,103.1 318.6,102.4 319.3,101.6 319.9,100.7 320.5,99.9 321.1,98.9 321.7,97.9 322.3,96.8 323.0,95.6 323.6,94.4 324.2,93.1 324.8,91.6 325.4,90.1 326.0,88.4 326.7,86.6 327.3,84.6 327.9,82.5 328.5,80.1 329.1,77.6 329.7,74.8 330.4,71.7 331.0,68.3 331.6,64.6 332.2,60.5 332.8,55.9 333.4,50.8 334.1,45.1 334.7,38.8 335.3,31.8 335.9,24.1 336.5,15.7 337.1,6.7 337.8,-2.6 338.4,-8.3 339.0,-8.3 339.6,-8.3 340.2,-8.3 340.8,-8.3 341.5,-8.3 342.1,-8.3 342.7,-8.3 343.3,-8.3 343.9,-8.3 344.5,-8.3 345.1,-6.6 345.8,-0.8 346.4,4.7 347.0,9.7 347.6,14.4 348.2,18.6 348.8,22.5 349.5,26.0 350.1,29.2 350.7,32.2 351.3,34.9 351.9,37.3 352.5,39.6 353.2,41.7 353.8,43.7 354.4,45.5 355.0,47.1 355.6,48.7 356.2,50.1 356.9,51.5 357.5,52.7 358.1,53.9 358.7,55.0 359.3,56.1 359.9,57.1 360.6,58.0 361.2,58.9 361.8,59.7 362.4,60.5 363.0,61.2 363.6,61.9 364.3,62.6 364.9,63.2 365.5,63.8 366.1,64.4 366.7,64.9 367.3,65.5 367.9,66.0 368.6,66.4 369.2,66.9 369.8,67.3 370.4,67.8 371.0,68.2 371.6,68.6 372.3,68.9 372.9,69.3 373.5,69.6 374.1,70.0 374.7,70.3 375.3,70.6 376.0,70.9 376.6,71.2 377.2,71.5 377.8,71.7 378.4,72.0 379.0,72.2 379.7,72.5 380.3,72.7 380.9,73.0 381.5,73.2 382.1,73.4 382.7,73.6 383.4,73.8 384.0,74.0 384.6,74.2 385.2,74.4 385.8,74.5 386.4,74.7 387.1,74.9 387.7,75.0 388.3,75.2 388.9,75.4 389.5,75.5 390.1,75.7 390.8,75.8 391.4,75.9 392.0,76.1 392.6,76.2 393.2,76.3 393.8,76.5 394.4,76.6 395.1,76.7 395.7,76.8 396.3,76.9 396.9,77.1 397.5,77.2 398.1,77.3 398.8,77.4 399.4,77.5 400.0,77.6 400.6,77.7 401.2,77.8 401.8,77.9 402.5,78.0 403.1,78.0 403.7,78.1 404.3,78.2 404.9,78.3 405.5,78.4 406.2,78.5 406.8,78.5 407.4,78.6 408.0,78.7 408.6,78.8 409.2,78.8 409.9,78.9 410.5,79.0 411.1,79.0 411.7,79.1 412.3,79.2 412.9,79.2 413.6,79.3 414.2,79.4 414.8,79.4 415.4,79.5 416.0,79.6 416.6,79.6 417.2,79.7 417.9,79.7 418.5,79.8 419.1,79.8 419.7,79.9 420.3,79.9 420.9,80.0 421.6,80.0 422.2,80.1 422.8,80.1 423.4,80.2 424.0,80.2 424.6,80.3 425.3,80.3 425.9,80.4 426.5,80.4 427.1,80.5 427.7,80.5 428.3,80.5 429.0,80.6 429.6,80.6 430.2,80.7 430.8,80.7 431.4,80.7 432.0,80.8 432.7,80.8 433.3,80.9 433.9,80.9 434.5,80.9 435.1,81.0 435.7,81.0 436.4,81.0 437.0,81.1 437.6,81.1 438.2,81.1 438.8,81.2 439.4,81.2 440.1,81.2 440.7,81.3 441.3,81.3 441.9,81.3 442.5,81.4 443.1,81.4 443.7,81.4 444.4,81.4 445.0,81.5 445.6,81.5 446.2,81.5 446.8,81.6 447.4,81.6 448.1,81.6 448.7,81.6 449.3,81.7 449.9,81.7 450.5,81.7 451.1,81.7 451.8,81.8 452.4,81.8 453.0,81.8 453.6,81.8 454.2,81.9 454.8,81.9 455.5,81.9 456.1,81.9 456.7,82.0 457.3,82.0 457.9,82.0 458.5,82.0 459.2,82.0 459.8,82.1 460.4,82.1 461.0,82.1 461.6,82.1 462.2,82.1 462.9,82.2 463.5,82.2 464.1,82.2 464.7,82.2 465.3,82.2 465.9,82.3 466.6,82.3 467.2,82.3 467.8,82.3 468.4,82.3 469.0,82.4 469.6,82.4 470.2,82.4 470.9,82.4 471.5,82.4 472.1,82.4 472.7,82.5 473.3,82.5 473.9,82.5 474.6,82.5 475.2,82.5 475.8,82.5 476.4,82.6 477.0,82.6 477.6,82.6 478.3,82.6 478.9,82.6 479.5,82.6 480.1,82.7 480.7,82.7 481.3,82.7 482.0,82.7 482.6,82.7 483.2,82.7 483.8,82.7 484.4,82.8 485.0,82.8 485.7,82.8 486.3,82.8 486.9,82.8 487.5,82.8 488.1,82.8 488.7,82.9 489.4,82.9 490.0,82.9 490.6,82.9 491.2,82.9 491.8,82.9 492.4,82.9 493.0,82.9 493.7,83.0 494.3,83.0 494.9,83.0 495.5,83.0 496.1,83.0 496.7,83.0 497.4,83.0 498.0,83.0 498.6,83.1 499.2,83.1 499.8,83.1 500.4,83.1 501.1,83.1 501.7,83.1 502.3,83.1 502.9,83.1 503.5,83.1 504.1,83.2 504.8,83.2 505.4,83.2 506.0,83.2 506.6,83.2 507.2,83.2 507.8,83.2 508.5,83.2 509.1,83.2 509.7,83.3 510.3,83.3 510.9,83.3 511.5,83.3 512.2,83.3 512.8,83.3 513.4,83.3 514.0,83.3 514.6,83.3 515.2,83.3 515.9,83.3 516.5,83.4 517.1,83.4 517.7,83.4 518.3,83.4 518.9,83.4 519.5,83.4 520.2,83.4 520.8,83.4 521.4,83.4 522.0,83.4 522.6,83.5 523.2,83.5 523.9,83.5 524.5,83.5 525.1,83.5 525.7,83.5 526.3,83.5 526.9,83.5 527.6,83.5 528.2,83.5 528.8,83.5 529.4,83.5 530.0,83.6 530.6,83.6 531.3,83.6 531.9,83.6 532.5,83.6 533.1,83.6 533.7,83.6 534.3,83.6 535.0,83.6 535.6,83.6 536.2,83.6 536.8,83.6 537.4,83.7 538.0,83.7 538.7,83.7 539.3,83.7 539.9,83.7 540.5,83.7"/>
<polyline stroke="#D95319" points="306.3,111.4 306.9,111.1 307.6,110.9 308.2,110.6 308.8,110.3 309.4,110.0 310.0,109.7 310.6,109.4 311.3,109.1 311.9,108.7 312.5,108.3 313.1,107.9 313.7,107.5 314.3,107.1 315.0,106.6 315.6,106.1 316.2,105.6 316.8,105.1 317.4,104.5 318.0,103.9 318.6,103.3 319.3,102.7 319.9,102.0 320.5,101.3 321.1,100.6 321.7,99.8 322.3,99.0 323.0,98.2 323.6,97.3 324.2,96.4 324.8,95.5 325.4,94.5 326.0,93.4 326.7,92.4 327.3,91.3 327.9,90.1 328.5,88.9 329.1,87.7 329.7,86.4 330.4,85.1 331.0,83.8 331.6,82.4 332.2,81.1 332.8,79.7 333.4,78.2 334.1,76.8 334.7,75.4 335.3,74.0 335.9,72.6 336.5,71.3 337.1,69.9 337.8,68.7 338.4,67.5 339.0,66.3 339.6,65.3 340.2,64.3 340.8,63.4 341.5,62.6 342.1,61.9 342.7,61.3 343.3,60.8 343.9,60.4 344.5,60.1 345.1,59.8 345.8,59.7 346.4,59.6 347.0,59.6 347.6,59.6 348.2,59.7 348.8,59.9 349.5,60.1 350.1,60.3 350.7,60.5 351.3,60.8 351.9,61.1 352.5,61.4 353.2,61.8 353.8,62.1 354.4,62.5 355.0,62.8 355.6,63.2 356.2,63.6 356.9,63.9 357.5,64.3 358.1,64.7 358.7,65.0 359.3,65.4 359.9,65.7 360.6,66.1 361.2,66.4 361.8,66.8 362.4,67.1 363.0,67.4 363.6,67.7 364.3,68.0 364.9,68.3 365.5,68.6 366.1,68.9 366.7,69.2 367.3,69.5 367.9,69.7 368.6,70.0 369.2,70.3 369.8,70.5 370.4,70.7 371.0,71.0 371.6,71.2 372.3,71.4 372.9,71.7 373.5,71.9 374.1,72.1 374.7,72.3 375.3,72.5 376.0,72.7 376.6,72.9 377.2,73.1 377.8,73.2 378.4,73.4 379.0,73.6 379.7,73.8 380.3,73.9 380.9,74.1 381.5,74.2 382.1,74.4 382.7,74.6 383.4,74.7 384.0,74.8 384.6,75.0 385.2,75.1 385.8,75.3 386.4,75.4 387.1,75.5 387.7,75.6 388.3,75.8 388.9,75.9 389.5,76.0 390.1,76.1 390.8,76.2 391.4,76.4 392.0,76.5 392.6,76.6 393.2,76.7 393.8,76.8 394.4,76.9 395.1,77.0 395.7,77.1 396.3,77.2 396.9,77.3 397.5,77.4 398.1,77.5 398.8,77.5 399.4,77.6 400.0,77.7 400.6,77.8 401.2,77.9 401.8,78.0 402.5,78.1 403.1,78.1 403.7,78.2 404.3,78.3 404.9,78.4 405.5,78.4 406.2,78.5 406.8,78.6 407.4,78.7 408.0,78.7 408.6,78.8 409.2,78.9 409.9,78.9 410.5,79.0 411.1,79.1 411.7,79.1 412.3,79.2 412.9,79.3 413.6,79.3 414.2,79.4 414.8,79.4 415.4,79.5 416.0,79.6 416.6,79.6 417.2,79.7 417.9,79.7 418.5,79.8 419.1,79.8 419.7,79.9 420.3,79.9 420.9,80.0 421.6,80.0 422.2,80.1 422.8,80.1 423.4,80.2 424.0,80.2 424.6,80.3 425.3,80.3 425.9,80.4 426.5,80.4 427.1,80.5 427.7,80.5 428.3,80.6 429.0,80.6 429.6,80.7 430.2,80.7 430.8,80.8 431.4,80.8 432.0,80.8 432.7,80.9 433.3,80.9 433.9,81.0 434.5,81.0 435.1,81.1 435.7,81.1 436.4,81.1 437.0,81.2 437.6,81.2 438.2,81.3 438.8,81.3 439.4,81.3 440.1,81.4 440.7,81.4 441.3,81.4 441.9,81.5 442.5,81.5 443.1,81.6 443.7,81.6 444.4,81.6 445.0,81.7 445.6,81.7 446.2,81.7 446.8,81.8 447.4,81.8 448.1,81.8 448.7,81.9 449.3,81.9 449.9,81.9 450.5,82.0 451.1,82.0 451.8,82.0 452.4,82.1 453.0,82.1 453.6,82.1 454.2,82.2 454.8,82.2 455.5,82.2 456.1,82.3 456.7,82.3 457.3,82.3 457.9,82.4 458.5,82.4 459.2,82.4 459.8,82.4 460.4,82.5 461.0,82.5 461.6,82.5 462.2,82.6 462.9,82.6 463.5,82.6 464.1,82.7 464.7,82.7 465.3,82.7 465.9,82.7 466.6,82.8 467.2,82.8 467.8,82.8 468.4,82.9 469.0,82.9 469.6,82.9 470.2,82.9 470.9,83.0 471.5,83.0 472.1,83.0 472.7,83.0 473.3,83.1 473.9,83.1 474.6,83.1 475.2,83.2 475.8,83.2 476.4,83.2 477.0,83.2 477.6,83.3 478.3,83.3 478.9,83.3 479.5,83.3 480.1,83.4 480.7,83.4 481.3,83.4 482.0,83.4 482.6,83.5 483.2,83.5 483.8,83.5 484.4,83.5 485.0,83.6 485.7,83.6 486.3,83.6 486.9,83.6 487.5,83.7 488.1,83.7 488.7,83.7 489.4,83.7 490.0,83.8 490.6,83.8 491.2,83.8 491.8,83.8 492.4,83.9 493.0,83.9 493.7,83.9 494.3,83.9 494.9,84.0 495.5,84.0 496.1,84.0 496.7,84.0 497.4,84.1 498.0,84.1 498.6,84.1 499.2,84.1 499.8,84.1 500.4,84.2 501.1,84.2 501.7,84.2 502.3,84.2 502.9,84.3 503.5,84.3 504.1,84.3 504.8,84.3 505.4,84.4 506.0,84.4 506.6,84.4 507.2,84.4 507.8,84.4 508.5,84.5 509.1,84.5 509.7,84.5 510.3,84.5 510.9,84.6 511.5,84.6 512.2,84.6 512.8,84.6 513.4,84.6 514.0,84.7 514.6,84.7 515.2,84.7 515.9,84.7 516.5,84.8 517.1,84.8 517.7,84.8 518.3,84.8 518.9,84.8 519.5,84.9 520.2,84.9 520.8,84.9 521.4,84.9 522.0,84.9 522.6,85.0 523.2,85.0 523.9,85.0 524.5,85.0 525.1,85.1 525.7,85.1 526.3,85.1 526.9,85.1 527.6,85.1 528.2,85.2 528.8,85.2 529.4,85.2 530.0,85.2 530.6,85.2 531.3,85.3 531.9,85.3 532.5,85.3 533.1,85.3 533.7,85.3 534.3,85.4 535.0,85.4 535.6,85.4 536.2,85.4 536.8,85.5 537.4,85.5 538.0,85.5 538.7,85.5 539.3,85.5 539.9,85.6 540.5,85.6"/>
<polyline stroke="#EDB120" points="306.9,111.2 307.6,111.0 308.2,110.7 308.8,110.5 309.4,110.2 310.0,109.9 310.6,109.6 311.3,109.3 311.9,109.0 312.5,108.7 313.1,108.4 313.7,108.0 314.3,107.6 315.0,107.3 315.6,106.9 316.2,106.5 316.8,106.0 317.4,105.6 318.0,105.2 318.6,104.7 319.3,104.2 319.9,103.7 320.5,103.2 321.1,102.7 321.7,102.2 322.3,101.7 323.0,101.1 323.6,100.6 324.2,100.0 324.8,99.4 325.4,98.8 326.0,98.2 326.7,97.6 327.3,97.0 327.9,96.4 328.5,95.7 329.1,95.1 329.7,94.5 330.4,93.8 331.0,93.2 331.6,92.5 332.2,91.9 332.8,91.2 333.4,90.6 334.1,89.9 334.7,89.3 335.3,88.7 335.9,88.0 336.5,87.4 337.1,86.8 337.8,86.2 338.4,85.6 339.0,85.1 339.6,84.5 340.2,84.0 340.8,83.4 341.5,82.9 342.1,82.4 342.7,82.0 343.3,81.5 343.9,81.1 344.5,80.6 345.1,80.2 345.8,79.8 346.4,79.5 347.0,79.1 347.6,78.8 348.2,78.5 348.8,78.2 349.5,77.9 350.1,77.6 350.7,77.4 351.3,77.2 351.9,76.9 352.5,76.8 353.2,76.6 353.8,76.4 354.4,76.2 355.0,76.1 355.6,76.0 356.2,75.8 356.9,75.7 357.5,75.6 358.1,75.6 358.7,75.5 359.3,75.4 359.9,75.3 360.6,75.3 361.2,75.3 361.8,75.2 362.4,75.2 363.0,75.2 363.6,75.2 364.3,75.1 364.9,75.1 365.5,75.1 366.1,75.1 366.7,75.2 367.3,75.2 367.9,75.2 368.6,75.2 369.2,75.2 369.8,75.3 370.4,75.3 371.0,75.3 371.6,75.4 372.3,75.4 372.9,75.4 373.5,75.5 374.1,75.5 374.7,75.6 375.3,75.6 376.0,75.7 376.6,75.7 377.2,75.8 377.8,75.8 378.4,75.9 379.0,75.9 379.7,76.0 380.3,76.0 380.9,76.1 381.5,76.2 382.1,76.2 382.7,76.3 383.4,76.3 384.0,76.4 384.6,76.5 385.2,76.5 385.8,76.6 386.4,76.6 387.1,76.7 387.7,76.8 388.3,76.8 388.9,76.9 389.5,77.0 390.1,77.0 390.8,77.1 391.4,77.1 392.0,77.2 392.6,77.3 393.2,77.3 393.8,77.4 394.4,77.5 395.1,77.5 395.7,77.6 396.3,77.6 396.9,77.7 397.5,77.8 398.1,77.8 398.8,77.9 399.4,78.0 400.0,78.0 400.6,78.1 401.2,78.1 401.8,78.2 402.5,78.3 403.1,78.3 403.7,78.4 404.3,78.4 404.9,78.5 405.5,78.6 406.2,78.6 406.8,78.7 407.4,78.7 408.0,78.8 408.6,78.9 409.2,78.9 409.9,79.0 410.5,79.0 411.1,79.1 411.7,79.2 412.3,79.2 412.9,79.3 413.6,79.3 414.2,79.4 414.8,79.4 415.4,79.5 416.0,79.6 416.6,79.6 417.2,79.7 417.9,79.7 418.5,79.8 419.1,79.8 419.7,79.9 420.3,79.9 420.9,80.0 421.6,80.1 422.2,80.1 422.8,80.2 423.4,80.2 424.0,80.3 424.6,80.3 425.3,80.4 425.9,80.4 426.5,80.5 427.1,80.5 427.7,80.6 428.3,80.7 429.0,80.7 429.6,80.8 430.2,80.8 430.8,80.9 431.4,80.9 432.0,81.0 432.7,81.0 433.3,81.1 433.9,81.1 434.5,81.2 435.1,81.2 435.7,81.3 436.4,81.3 437.0,81.4 437.6,81.4 438.2,81.5 438.8,81.5 439.4,81.6 440.1,81.6 440.7,81.7 441.3,81.7 441.9,81.8 442.5,81.8 443.1,81.9 443.7,81.9 444.4,82.0 445.0,82.0 445.6,82.1 446.2,82.1 446.8,82.2 447.4,82.2 448.1,82.3 448.7,82.3 449.3,82.4 449.9,82.4 450.5,82.5 451.1,82.5 451.8,82.6 452.4,82.6 453.0,82.7 453.6,82.7 454.2,82.8 454.8,82.8 455.5,82.9 456.1,82.9 456.7,82.9 457.3,83.0 457.9,83.0 458.5,83.1 459.2,83.1 459.8,83.2 460.4,83.2 461.0,83.3 461.6,83.3 462.2,83.4 462.9,83.4 463.5,83.5 464.1,83.5 464.7,83.5 465.3,83.6 465.9,83.6 466.6,83.7 467.2,83.7 467.8,83.8 468.4,83.8 469.0,83.9 469.6,83.9 470.2,84.0 470.9,84.0 471.5,84.0 472.1,84.1 472.7,84.1 473.3,84.2 473.9,84.2 474.6,84.3 475.2,84.3 475.8,84.3 476.4,84.4 477.0,84.4 477.6,84.5 478.3,84.5 478.9,84.6 479.5,84.6 480.1,84.7 480.7,84.7 481.3,84.7 482.0,84.8 482.6,84.8 483.2,84.9 483.8,84.9 484.4,85.0 485.0,85.0 485.7,85.0 486.3,85.1 486.9,85.1 487.5,85.2 488.1,85.2 488.7,85.2 489.4,85.3 490.0,85.3 490.6,85.4 491.2,85.4 491.8,85.5 492.4,85.5 493.0,85.5 493.7,85.6 494.3,85.6 494.9,85.7 495.5,85.7 496.1,85.7 496.7,85.8 497.4,85.8 498.0,85.9 498.6,85.9 499.2,85.9 499.8,86.0 500.4,86.0 501.1,86.1 501.7,86.1 502.3,86.1 502.9,86.2 503.5,86.2 504.1,86.3 504.8,86.3 505.4,86.3 506.0,86.4 506.6,86.4 507.2,86.5 507.8,86.5 508.5,86.5 509.1,86.6 509.7,86.6 510.3,86.7 510.9,86.7 511.5,86.7 512.2,86.8 512.8,86.8 513.4,86.9 514.0,86.9 514.6,86.9 515.2,87.0 515.9,87.0 516.5,87.0 517.1,87.1 517.7,87.1 518.3,87.2 518.9,87.2 519.5,87.2 520.2,87.3 520.8,87.3 521.4,87.3 522.0,87.4 522.6,87.4 523.2,87.5 523.9,87.5 524.5,87.5 525.1,87.6 525.7,87.6 526.3,87.6 526.9,87.7 527.6,87.7 528.2,87.8 528.8,87.8 529.4,87.8 530.0,87.9 530.6,87.9 531.3,87.9 531.9,88.0 532.5,88.0 533.1,88.0 533.7,88.1 534.3,88.1 535.0,88.2 535.6,88.2 536.2,88.2 536.8,88.3 537.4,88.3 538.0,88.3 538.7,88.4 539.3,88.4 539.9,88.4 540.5,88.5"/>
<polyline stroke="#7E2F8E" points="308.2,110.9 308.8,110.7 309.4,110.4 310.0,110.2 310.6,109.9 311.3,109.7 311.9,109.4 312.5,109.1 313.1,108.8 313.7,108.6 314.3,108.3 315.0,107.9 315.6,107.6 316.2,107.3 316.8,107.0 317.4,106.7 318.0,106.3 318.6,106.0 319.3,105.6 319.9,105.3 320.5,104.9 321.1,104.6 321.7,104.2 322.3,103.8 323.0,103.5 323.6,103.1 324.2,102.7 324.8,102.3 325.4,101.9 326.0,101.5 326.7,101.1 327.3,100.7 327.9,100.3 328.5,99.9 329.1,99.5 329.7,99.1 330.4,98.7 331.0,98.3 331.6,97.9 332.2,97.5 332.8,97.1 333.4,96.7 334.1,96.3 334.7,95.9 335.3,95.5 335.9,95.1 336.5,94.7 337.1,94.3 337.8,93.9 338.4,93.6 339.0,93.2 339.6,92.8 340.2,92.4 340.8,92.0 341.5,91.7 342.1,91.3 342.7,90.9 343.3,90.6 343.9,90.2 344.5,89.9 345.1,89.5 345.8,89.2 346.4,88.8 347.0,88.5 347.6,88.2 348.2,87.8 348.8,87.5 349.5,87.2 350.1,86.9 350.7,86.6 351.3,86.3 351.9,86.0 352.5,85.7 353.2,85.5 353.8,85.2 354.4,84.9 355.0,84.7 355.6,84.4 356.2,84.2 356.9,83.9 357.5,83.7 358.1,83.4 358.7,83.2 359.3,83.0 359.9,82.8 360.6,82.6 361.2,82.4 361.8,82.2 362.4,82.0 363.0,81.8 363.6,81.6 364.3,81.5 364.9,81.3 365.5,81.1 366.1,81.0 366.7,80.8 367.3,80.7 367.9,80.5 368.6,80.4 369.2,80.3 369.8,80.1 370.4,80.0 371.0,79.9 371.6,79.8 372.3,79.7 372.9,79.6 373.5,79.5 374.1,79.4 374.7,79.3 375.3,79.2 376.0,79.1 376.6,79.0 377.2,79.0 377.8,78.9 378.4,78.8 379.0,78.8 379.7,78.7 380.3,78.7 380.9,78.6 381.5,78.6 382.1,78.5 382.7,78.5 383.4,78.4 384.0,78.4 384.6,78.4 385.2,78.4 385.8,78.3 386.4,78.3 387.1,78.3 387.7,78.3 388.3,78.3 388.9,78.2 389.5,78.2 390.1,78.2 390.8,78.2 391.4,78.2 392.0,78.2 392.6,78.2 393.2,78.2 393.8,78.3 394.4,78.3 395.1,78.3 395.7,78.3 396.3,78.3 396.9,78.3 397.5,78.3 398.1,78.4 398.8,78.4 399.4,78.4 400.0,78.4 400.6,78.5 401.2,78.5 401.8,78.5 402.5,78.6 403.1,78.6 403.7,78.6 404.3,78.7 404.9,78.7 405.5,78.7 406.2,78.8 406.8,78.8 407.4,78.9 408.0,78.9 408.6,79.0 409.2,79.0 409.9,79.0 410.5,79.1 411.1,79.1 411.7,79.2 412.3,79.2 412.9,79.3 413.6,79.3 414.2,79.4 414.8,79.4 415.4,79.5 416.0,79.6 416.6,79.6 417.2,79.7 417.9,79.7 418.5,79.8 419.1,79.8 419.7,79.9 420.3,80.0 420.9,80.0 421.6,80.1 422.2,80.1 422.8,80.2 423.4,80.3 424.0,80.3 424.6,80.4 425.3,80.4 425.9,80.5 426.5,80.6 427.1,80.6 427.7,80.7 428.3,80.8 429.0,80.8 429.6,80.9 430.2,81.0 430.8,81.0 431.4,81.1 432.0,81.2 432.7,81.2 433.3,81.3 433.9,81.4 434.5,81.4 435.1,81.5 435.7,81.6 436.4,81.6 437.0,81.7 437.6,81.8 438.2,81.8 438.8,81.9 439.4,82.0 440.1,82.0 440.7,82.1 441.3,82.2 441.9,82.2 442.5,82.3 443.1,82.4 443.7,82.4 444.4,82.5 445.0,82.6 445.6,82.6 446.2,82.7 446.8,82.8 447.4,82.8 448.1,82.9 448.7,83.0 449.3,83.0 449.9,83.1 450.5,83.2 451.1,83.2 451.8,83.3 452.4,83.4 453.0,83.4 453.6,83.5 454.2,83.6 454.8,83.6 455.5,83.7 456.1,83.8 456.7,83.8 457.3,83.9 457.9,84.0 458.5,84.1 459.2,84.1 459.8,84.2 460.4,84.3 461.0,84.3 461.6,84.4 462.2,84.4 462.9,84.5 463.5,84.6 464.1,84.6 464.7,84.7 465.3,84.8 465.9,84.8 466.6,84.9 467.2,85.0 467.8,85.0 468.4,85.1 469.0,85.2 469.6,85.2 470.2,85.3 470.9,85.4 471.5,85.4 472.1,85.5 472.7,85.6 473.3,85.6 473.9,85.7 474.6,85.7 475.2,85.8 475.8,85.9 476.4,85.9 477.0,86.0 477.6,86.1 478.3,86.1 478.9,86.2 479.5,86.2 480.1,86.3 480.7,86.4 481.3,86.4 482.0,86.5 482.6,86.6 483.2,86.6 483.8,86.7 484.4,86.7 485.0,86.8 485.7,86.9 486.3,86.9 486.9,87.0 487.5,87.0 488.1,87.1 488.7,87.2 489.4,87.2 490.0,87.3 490.6,87.3 491.2,87.4 491.8,87.4 492.4,87.5 493.0,87.6 493.7,87.6 494.3,87.7 494.9,87.7 495.5,87.8 496.1,87.9 496.7,87.9 497.4,88.0 498.0,88.0 498.6,88.1 499.2,88.1 499.8,88.2 500.4,88.3 501.1,88.3 501.7,88.4 502.3,88.4 502.9,88.5 503.5,88.5 504.1,88.6 504.8,88.6 505.4,88.7 506.0,88.7 506.6,88.8 507.2,88.9 507.8,88.9 508.5,89.0 509.1,89.0 509.7,89.1 510.3,89.1 510.9,89.2 511.5,89.2 512.2,89.3 512.8,89.3 513.4,89.4 514.0,89.4 514.6,89.5 515.2,89.5 515.9,89.6 516.5,89.6 517.1,89.7 517.7,89.7 518.3,89.8 518.9,89.8 519.5,89.9 520.2,89.9 520.8,90.0 521.4,90.0 522.0,90.1 522.6,90.1 523.2,90.2 523.9,90.2 524.5,90.3 525.1,90.3 525.7,90.4 526.3,90.4 526.9,90.5 527.6,90.5 528.2,90.6 528.8,90.6 529.4,90.7 530.0,90.7 530.6,90.8 531.3,90.8 531.9,90.9 532.5,90.9 533.1,91.0 533.7,91.0 534.3,91.1 535.0,91.1 535.6,91.2 536.2,91.2 536.8,91.2 537.4,91.3 538.0,91.3 538.7,91.4 539.3,91.4 539.9,91.5 540.5,91.5"/>
<polyline stroke="#17851F" points="311.3,110.0 311.9,109.8 312.5,109.5 313.1,109.3 313.7,109.1 314.3,108.8 315.0,108.6 315.6,108.3 316.2,108.1 316.8,107.8 317.4,107.6 318.0,107.3 318.6,107.1 319.3,106.8 319.9,106.5 320.5,106.3 321.1,106.0 321.7,105.7 322.3,105.5 323.0,105.2 323.6,104.9 324.2,104.6 324.8,104.3 325.4,104.1 326.0,103.8 326.7,103.5 327.3,103.2 327.9,102.9 328.5,102.6 329.1,102.3 329.7,102.1 330.4,101.8 331.0,101.5 331.6,101.2 332.2,100.9 332.8,100.6 333.4,100.3 334.1,100.0 334.7,99.7 335.3,99.4 335.9,99.1 336.5,98.9 337.1,98.6 337.8,98.3 338.4,98.0 339.0,97.7 339.6,97.4 340.2,97.1 340.8,96.8 341.5,96.5 342.1,96.2 342.7,95.9 343.3,95.6 343.9,95.3 344.5,95.1 345.1,94.8 345.8,94.5 346.4,94.2 347.0,93.9 347.6,93.6 348.2,93.3 348.8,93.0 349.5,92.8 350.1,92.5 350.7,92.2 351.3,91.9 351.9,91.6 352.5,91.4 353.2,91.1 353.8,90.8 354.4,90.5 355.0,90.3 355.6,90.0 356.2,89.7 356.9,89.5 357.5,89.2 358.1,88.9 358.7,88.7 359.3,88.4 359.9,88.2 360.6,87.9 361.2,87.7 361.8,87.4 362.4,87.2 363.0,86.9 363.6,86.7 364.3,86.4 364.9,86.2 365.5,86.0 366.1,85.7 366.7,85.5 367.3,85.3 367.9,85.1 368.6,84.9 369.2,84.6 369.8,84.4 370.4,84.2 371.0,84.0 371.6,83.8 372.3,83.6 372.9,83.4 373.5,83.2 374.1,83.1 374.7,82.9 375.3,82.7 376.0,82.5 376.6,82.4 377.2,82.2 377.8,82.0 378.4,81.9 379.0,81.7 379.7,81.6 380.3,81.4 380.9,81.3 381.5,81.2 382.1,81.0 382.7,80.9 383.4,80.8 384.0,80.7 384.6,80.5 385.2,80.4 385.8,80.3 386.4,80.2 387.1,80.1 387.7,80.0 388.3,79.9 388.9,79.8 389.5,79.8 390.1,79.7 390.8,79.6 391.4,79.5 392.0,79.5 392.6,79.4 393.2,79.4 393.8,79.3 394.4,79.3 395.1,79.2 395.7,79.2 396.3,79.1 396.9,79.1 397.5,79.1 398.1,79.0 398.8,79.0 399.4,79.0 400.0,79.0 400.6,79.0 401.2,79.0 401.8,78.9 402.5,78.9 403.1,78.9 403.7,78.9 404.3,79.0 404.9,79.0 405.5,79.0 406.2,79.0 406.8,79.0 407.4,79.0 408.0,79.0 408.6,79.1 409.2,79.1 409.9,79.1 410.5,79.2 411.1,79.2 411.7,79.2 412.3,79.3 412.9,79.3 413.6,79.4 414.2,79.4 414.8,79.5 415.4,79.5 416.0,79.6 416.6,79.6 417.2,79.7 417.9,79.7 418.5,79.8 419.1,79.8 419.7,79.9 420.3,80.0 420.9,80.0 421.6,80.1 422.2,80.2 422.8,80.2 423.4,80.3 424.0,80.4 424.6,80.5 425.3,80.5 425.9,80.6 426.5,80.7 427.1,80.8 427.7,80.8 428.3,80.9 429.0,81.0 429.6,81.1 430.2,81.1 430.8,81.2 431.4,81.3 432.0,81.4 432.7,81.5 433.3,81.6 433.9,81.6 434.5,81.7 435.1,81.8 435.7,81.9 436.4,82.0 437.0,82.1 437.6,82.2 438.2,82.3 438.8,82.3 439.4,82.4 440.1,82.5 440.7,82.6 441.3,82.7 441.9,82.8 442.5,82.9 443.1,83.0 443.7,83.1 444.4,83.1 445.0,83.2 445.6,83.3 446.2,83.4 446.8,83.5 447.4,83.6 448.1,83.7 448.7,83.8 449.3,83.9 449.9,84.0 450.5,84.0 451.1,84.1 451.8,84.2 452.4,84.3 453.0,84.4 453.6,84.5 454.2,84.6 454.8,84.7 455.5,84.8 456.1,84.9 456.7,84.9 457.3,85.0 457.9,85.1 458.5,85.2 459.2,85.3 459.8,85.4 460.4,85.5 461.0,85.6 461.6,85.6 462.2,85.7 462.9,85.8 463.5,85.9 464.1,86.0 464.7,86.1 465.3,86.2 465.9,86.2 466.6,86.3 467.2,86.4 467.8,86.5 468.4,86.6 469.0,86.7 469.6,86.8 470.2,86.8 470.9,86.9 471.5,87.0 472.1,87.1 472.7,87.2 473.3,87.2 473.9,87.3 474.6,87.4 475.2,87.5 475.8,87.6 476.4,87.7 477.0,87.7 477.6,87.8 478.3,87.9 478.9,88.0 479.5,88.0 480.1,88.1 480.7,88.2 481.3,88.3 482.0,88.4 482.6,88.4 483.2,88.5 483.8,88.6 484.4,88.7 485.0,88.7 485.7,88.8 486.3,88.9 486.9,89.0 487.5,89.0 488.1,89.1 488.7,89.2 489.4,89.3 490.0,89.3 490.6,89.4 491.2,89.5 491.8,89.5 492.4,89.6 493.0,89.7 493.7,89.8 494.3,89.8 494.9,89.9 495.5,90.0 496.1,90.0 496.7,90.1 497.4,90.2 498.0,90.2 498.6,90.3 499.2,90.4 499.8,90.5 500.4,90.5 501.1,90.6 501.7,90.7 502.3,90.7 502.9,90.8 503.5,90.8 504.1,90.9 504.8,91.0 505.4,91.0 506.0,91.1 506.6,91.2 507.2,91.2 507.8,91.3 508.5,91.4 509.1,91.4 509.7,91.5 510.3,91.5 510.9,91.6 511.5,91.7 512.2,91.7 512.8,91.8 513.4,91.9 514.0,91.9 514.6,92.0 515.2,92.0 515.9,92.1 516.5,92.2 517.1,92.2 517.7,92.3 518.3,92.3 518.9,92.4 519.5,92.4 520.2,92.5 520.8,92.6 521.4,92.6 522.0,92.7 522.6,92.7 523.2,92.8 523.9,92.8 524.5,92.9 525.1,93.0 525.7,93.0 526.3,93.1 526.9,93.1 527.6,93.2 528.2,93.2 528.8,93.3 529.4,93.3 530.0,93.4 530.6,93.4 531.3,93.5 531.9,93.5 532.5,93.6 533.1,93.6 533.7,93.7 534.3,93.7 535.0,93.8 535.6,93.8 536.2,93.9 536.8,93.9 537.4,94.0 538.0,94.0 538.7,94.1 539.3,94.1 539.9,94.2 540.5,94.2"/>
<polyline stroke="#4DBEEE" stroke-width="1.8" points="294.0,113.5 294.6,113.5 295.2,113.5 295.8,113.5 296.5,113.4 297.1,113.4 297.7,113.3 298.3,113.3 298.9,113.2 299.5,113.1 300.2,113.0 300.8,112.9 301.4,112.8 302.0,112.7 302.6,112.6 303.2,112.4 303.9,112.3 304.5,112.2 305.1,112.0 305.7,111.9 306.3,111.7 306.9,111.6 307.6,111.4 308.2,111.2 308.8,111.0 309.4,110.9 310.0,110.7 310.6,110.5 311.3,110.3 311.9,110.1 312.5,109.9 313.1,109.7 313.7,109.6 314.3,109.4 315.0,109.2 315.6,109.0 316.2,108.8 316.8,108.5 317.4,108.3 318.0,108.1 318.6,107.9 319.3,107.7 319.9,107.5 320.5,107.3 321.1,107.1 321.7,106.9 322.3,106.7 323.0,106.4 323.6,106.2 324.2,106.0 324.8,105.8 325.4,105.6 326.0,105.4 326.7,105.1 327.3,104.9 327.9,104.7 328.5,104.5 329.1,104.2 329.7,104.0 330.4,103.8 331.0,103.6 331.6,103.3 332.2,103.1 332.8,102.9 333.4,102.7 334.1,102.4 334.7,102.2 335.3,102.0 335.9,101.7 336.5,101.5 337.1,101.3 337.8,101.0 338.4,100.8 339.0,100.6 339.6,100.3 340.2,100.1 340.8,99.8 341.5,99.6 342.1,99.4 342.7,99.1 343.3,98.9 343.9,98.6 344.5,98.4 345.1,98.1 345.8,97.9 346.4,97.7 347.0,97.4 347.6,97.2 348.2,96.9 348.8,96.7 349.5,96.4 350.1,96.2 350.7,95.9 351.3,95.7 351.9,95.4 352.5,95.1 353.2,94.9 353.8,94.6 354.4,94.4 355.0,94.1 355.6,93.9 356.2,93.6 356.9,93.4 357.5,93.1 358.1,92.9 358.7,92.6 359.3,92.3 359.9,92.1 360.6,91.8 361.2,91.6 361.8,91.3 362.4,91.1 363.0,90.8 363.6,90.5 364.3,90.3 364.9,90.0 365.5,89.8 366.1,89.5 366.7,89.3 367.3,89.0 367.9,88.8 368.6,88.5 369.2,88.3 369.8,88.0 370.4,87.8 371.0,87.5 371.6,87.3 372.3,87.1 372.9,86.8 373.5,86.6 374.1,86.3 374.7,86.1 375.3,85.9 376.0,85.6 376.6,85.4 377.2,85.2 377.8,85.0 378.4,84.8 379.0,84.5 379.7,84.3 380.3,84.1 380.9,83.9 381.5,83.7 382.1,83.5 382.7,83.3 383.4,83.1 384.0,82.9 384.6,82.7 385.2,82.6 385.8,82.4 386.4,82.2 387.1,82.0 387.7,81.9 388.3,81.7 388.9,81.6 389.5,81.4 390.1,81.3 390.8,81.1 391.4,81.0 392.0,80.9 392.6,80.7 393.2,80.6 393.8,80.5 394.4,80.4 395.1,80.3 395.7,80.2 396.3,80.1 396.9,80.0 397.5,79.9 398.1,79.8 398.8,79.8 399.4,79.7 400.0,79.6 400.6,79.6 401.2,79.5 401.8,79.5 402.5,79.4 403.1,79.4 403.7,79.3 404.3,79.3 404.9,79.3 405.5,79.3 406.2,79.2 406.8,79.2 407.4,79.2 408.0,79.2 408.6,79.2 409.2,79.2 409.9,79.2 410.5,79.3 411.1,79.3 411.7,79.3 412.3,79.3 412.9,79.4 413.6,79.4 414.2,79.4 414.8,79.5 415.4,79.5 416.0,79.6 416.6,79.6 417.2,79.7 417.9,79.7 418.5,79.8 419.1,79.8 419.7,79.9 420.3,80.0 420.9,80.1 421.6,80.1 422.2,80.2 422.8,80.3 423.4,80.4 424.0,80.5 424.6,80.5 425.3,80.6 425.9,80.7 426.5,80.8 427.1,80.9 427.7,81.0 428.3,81.1 429.0,81.2 429.6,81.3 430.2,81.4 430.8,81.5 431.4,81.6 432.0,81.7 432.7,81.8 433.3,81.9 433.9,82.0 434.5,82.1 435.1,82.2 435.7,82.3 436.4,82.4 437.0,82.5 437.6,82.7 438.2,82.8 438.8,82.9 439.4,83.0 440.1,83.1 440.7,83.2 441.3,83.3 441.9,83.4 442.5,83.6 443.1,83.7 443.7,83.8 444.4,83.9 445.0,84.0 445.6,84.1 446.2,84.2 446.8,84.4 447.4,84.5 448.1,84.6 448.7,84.7 449.3,84.8 449.9,84.9 450.5,85.0 451.1,85.1 451.8,85.3 452.4,85.4 453.0,85.5 453.6,85.6 454.2,85.7 454.8,85.8 455.5,85.9 456.1,86.0 456.7,86.1 457.3,86.3 457.9,86.4 458.5,86.5 459.2,86.6 459.8,86.7 460.4,86.8 461.0,86.9 461.6,87.0 462.2,87.1 462.9,87.2 463.5,87.3 464.1,87.4 464.7,87.5 465.3,87.6 465.9,87.7 466.6,87.8 467.2,87.9 467.8,88.0 468.4,88.1 469.0,88.2 469.6,88.3 470.2,88.4 470.9,88.5 471.5,88.6 472.1,88.7 472.7,88.8 473.3,88.9 473.9,89.0 474.6,89.1 475.2,89.2 475.8,89.3 476.4,89.4 477.0,89.5 477.6,89.6 478.3,89.7 478.9,89.8 479.5,89.9 480.1,90.0 480.7,90.0 481.3,90.1 482.0,90.2 482.6,90.3 483.2,90.4 483.8,90.5 484.4,90.6 485.0,90.7 485.7,90.7 486.3,90.8 486.9,90.9 487.5,91.0 488.1,91.1 488.7,91.2 489.4,91.2 490.0,91.3 490.6,91.4 491.2,91.5 491.8,91.6 492.4,91.7 493.0,91.7 493.7,91.8 494.3,91.9 494.9,92.0 495.5,92.0 496.1,92.1 496.7,92.2 497.4,92.3 498.0,92.3 498.6,92.4 499.2,92.5 499.8,92.6 500.4,92.6 501.1,92.7 501.7,92.8 502.3,92.9 502.9,92.9 503.5,93.0 504.1,93.1 504.8,93.1 505.4,93.2 506.0,93.3 506.6,93.4 507.2,93.4 507.8,93.5 508.5,93.6 509.1,93.6 509.7,93.7 510.3,93.8 510.9,93.8 511.5,93.9 512.2,94.0 512.8,94.0 513.4,94.1 514.0,94.1 514.6,94.2 515.2,94.3 515.9,94.3 516.5,94.4 517.1,94.5 517.7,94.5 518.3,94.6 518.9,94.6 519.5,94.7 520.2,94.8 520.8,94.8 521.4,94.9 522.0,94.9 522.6,95.0 523.2,95.1 523.9,95.1 524.5,95.2 525.1,95.2 525.7,95.3 526.3,95.3 526.9,95.4 527.6,95.5 528.2,95.5 528.8,95.6 529.4,95.6 530.0,95.7 530.6,95.7 531.3,95.8 531.9,95.8 532.5,95.9 533.1,95.9 533.7,96.0 534.3,96.1 535.0,96.1 535.6,96.2 536.2,96.2 536.8,96.3 537.4,96.3 538.0,96.4 538.7,96.4 539.3,96.5 539.9,96.5 540.5,96.6"/>
<path d="M294.0 76.28H540.5" stroke="#0AFA0A" stroke-width="1.45" stroke-dasharray="5.6 5.6"/>
<path d="M294.0 83.05H540.5" stroke="#FF0A0A" stroke-width="1.45" stroke-dasharray="5.6 5.6"/>
</g>
<text class="bi" transform="translate(403.8 25.8) scale(1 0.97)" fill="#A2142F" stroke="#A2142F">m=7</text>
<text class="bi" transform="translate(442.2 65.7) scale(1 0.9)" fill="#0AFA0A" stroke="#0AFA0A">max gain</text>
<text class="bi" transform="translate(390.5 99.4) scale(1 0.9)" fill="#FF0A0A" stroke="#FF0A0A">min gain</text>
<rect x="513.9" y="11.5" width="26.600000000000023" height="60.0" fill="#fff" stroke="#c8c8c8" stroke-width="0.6"/>
<path d="M513.9 23.1H540.5" stroke="#c8c8c8" stroke-width="0.6"/>
<text class="lg" x="519.1" y="19.6" style="font-size:7.4px;stroke-width:0.45px">Q<tspan style="font-size:5.7px;stroke-width:0.3px" dx="0.3" dy="2.3">load</tspan></text>
<path d="M515.1999999999999 28.00h13.8" stroke="#0072BD" stroke-width="1.75"/>
<text class="lg" x="530.6999999999999" y="30.20">0.1</text>
<path d="M515.1999999999999 35.80h13.8" stroke="#D95319" stroke-width="1.75"/>
<text class="lg" x="530.6999999999999" y="38.00">0.3</text>
<path d="M515.1999999999999 43.60h13.8" stroke="#EDB120" stroke-width="1.75"/>
<text class="lg" x="530.6999999999999" y="45.80">0.5</text>
<path d="M515.1999999999999 51.40h13.8" stroke="#7E2F8E" stroke-width="1.75"/>
<text class="lg" x="530.6999999999999" y="53.60">0.7</text>
<path d="M515.1999999999999 59.20h13.8" stroke="#17851F" stroke-width="1.75"/>
<text class="lg" x="530.6999999999999" y="61.40">0.9</text>
<path d="M515.1999999999999 67.00h13.8" stroke="#4DBEEE" stroke-width="1.75"/>
<text class="lg" x="530.6999999999999" y="69.20">1.1</text>
</g>
<g>
<path d="M61.66 124.4V225.6M86.32 124.4V225.6M110.98 124.4V225.6M135.64 124.4V225.6M160.30 124.4V225.6M184.96 124.4V225.6M209.62 124.4V225.6M234.28 124.4V225.6M258.94 124.4V225.6M37.0 208.73H283.6M37.0 191.87H283.6M37.0 175.00H283.6M37.0 158.13H283.6M37.0 141.27H283.6M37.0 124.40H283.6" stroke="#efefef" stroke-width="0.5" fill="none"/>
<path d="M37.0 124.4V225.6" stroke="#8c8c8c" stroke-width="0.6" fill="none"/>
<path d="M37.0 225.6H283.6M37.00 225.6v-2.6M61.66 225.6v-2.6M86.32 225.6v-2.6M110.98 225.6v-2.6M135.64 225.6v-2.6M160.30 225.6v-2.6M184.96 225.6v-2.6M209.62 225.6v-2.6M234.28 225.6v-2.6M258.94 225.6v-2.6M283.60 225.6v-2.6M36.7 225.60h2.6M36.7 208.73h2.6M36.7 191.87h2.6M36.7 175.00h2.6M36.7 158.13h2.6M36.7 141.27h2.6M36.7 124.40h2.6" stroke="#3a3a3a" stroke-width="0.75" fill="none"/>
<path d="M43.16 225.6v-1.4M49.33 225.6v-1.4M55.50 225.6v-1.4M67.83 225.6v-1.4M73.99 225.6v-1.4M80.16 225.6v-1.4M92.49 225.6v-1.4M98.65 225.6v-1.4M104.82 225.6v-1.4M117.15 225.6v-1.4M123.31 225.6v-1.4M129.48 225.6v-1.4M141.81 225.6v-1.4M147.97 225.6v-1.4M154.14 225.6v-1.4M166.47 225.6v-1.4M172.63 225.6v-1.4M178.80 225.6v-1.4M191.12 225.6v-1.4M197.29 225.6v-1.4M203.46 225.6v-1.4M215.79 225.6v-1.4M221.95 225.6v-1.4M228.12 225.6v-1.4M240.45 225.6v-1.4M246.61 225.6v-1.4M252.78 225.6v-1.4M265.11 225.6v-1.4M271.27 225.6v-1.4M277.44 225.6v-1.4M36.7 222.23h1.5M36.7 218.85h1.5M36.7 215.48h1.5M36.7 212.11h1.5M36.7 205.36h1.5M36.7 201.99h1.5M36.7 198.61h1.5M36.7 195.24h1.5M36.7 188.49h1.5M36.7 185.12h1.5M36.7 181.75h1.5M36.7 178.37h1.5M36.7 171.63h1.5M36.7 168.25h1.5M36.7 164.88h1.5M36.7 161.51h1.5M36.7 154.76h1.5M36.7 151.39h1.5M36.7 148.01h1.5M36.7 144.64h1.5M36.7 137.89h1.5M36.7 134.52h1.5M36.7 131.15h1.5M36.7 127.77h1.5" stroke="#555" stroke-width="0.45" fill="none"/>
<g clip-path="url(#cp10)" fill="none" stroke-width="1.65" stroke-linejoin="round">
<polyline stroke="#0072BD" points="45.0,224.0 45.6,223.7 46.2,223.4 46.9,223.0 47.5,222.7 48.1,222.3 48.7,221.9 49.3,221.4 49.9,220.9 50.6,220.4 51.2,219.8 51.8,219.2 52.4,218.6 53.0,217.9 53.6,217.1 54.3,216.3 54.9,215.4 55.5,214.4 56.1,213.4 56.7,212.3 57.3,211.1 58.0,209.8 58.6,208.4 59.2,206.8 59.8,205.2 60.4,203.3 61.0,201.3 61.7,199.2 62.3,196.8 62.9,194.1 63.5,191.2 64.1,188.1 64.7,184.5 65.4,180.7 66.0,176.4 66.6,171.7 67.2,166.6 67.8,161.0 68.4,155.1 69.1,148.8 69.7,142.4 70.3,136.2 70.9,130.3 71.5,125.3 72.1,121.4 72.8,118.8 73.4,117.8 74.0,118.1 74.6,119.6 75.2,122.0 75.8,124.9 76.5,128.2 77.1,131.6 77.7,135.0 78.3,138.2 78.9,141.4 79.5,144.3 80.2,147.1 80.8,149.6 81.4,152.0 82.0,154.2 82.6,156.3 83.2,158.1 83.9,159.9 84.5,161.5 85.1,163.0 85.7,164.4 86.3,165.7 86.9,166.9 87.6,168.1 88.2,169.1 88.8,170.1 89.4,171.1 90.0,171.9 90.6,172.8 91.3,173.5 91.9,174.3 92.5,174.9 93.1,175.6 93.7,176.2 94.3,176.8 95.0,177.4 95.6,177.9 96.2,178.4 96.8,178.9 97.4,179.3 98.0,179.8 98.7,180.2 99.3,180.6 99.9,180.9 100.5,181.3 101.1,181.7 101.7,182.0 102.3,182.3 103.0,182.6 103.6,182.9 104.2,183.2 104.8,183.5 105.4,183.7 106.0,184.0 106.7,184.2 107.3,184.4 107.9,184.7 108.5,184.9 109.1,185.1 109.7,185.3 110.4,185.5 111.0,185.7 111.6,185.9 112.2,186.0 112.8,186.2 113.4,186.4 114.1,186.5 114.7,186.7 115.3,186.9 115.9,187.0 116.5,187.1 117.1,187.3 117.8,187.4 118.4,187.5 119.0,187.7 119.6,187.8 120.2,187.9 120.8,188.0 121.5,188.1 122.1,188.2 122.7,188.4 123.3,188.5 123.9,188.6 124.5,188.7 125.2,188.8 125.8,188.9 126.4,188.9 127.0,189.0 127.6,189.1 128.2,189.2 128.9,189.3 129.5,189.4 130.1,189.5 130.7,189.5 131.3,189.6 131.9,189.7 132.6,189.8 133.2,189.8 133.8,189.9 134.4,190.0 135.0,190.0 135.6,190.1 136.3,190.2 136.9,190.2 137.5,190.3 138.1,190.3 138.7,190.4 139.3,190.4 140.0,190.5 140.6,190.6 141.2,190.6 141.8,190.7 142.4,190.7 143.0,190.8 143.7,190.8 144.3,190.9 144.9,190.9 145.5,191.0 146.1,191.0 146.7,191.1 147.4,191.1 148.0,191.1 148.6,191.2 149.2,191.2 149.8,191.3 150.4,191.3 151.1,191.3 151.7,191.4 152.3,191.4 152.9,191.5 153.5,191.5 154.1,191.5 154.8,191.6 155.4,191.6 156.0,191.6 156.6,191.7 157.2,191.7 157.8,191.7 158.5,191.8 159.1,191.8 159.7,191.8 160.3,191.9 160.9,191.9 161.5,191.9 162.1,192.0 162.8,192.0 163.4,192.0 164.0,192.0 164.6,192.1 165.2,192.1 165.8,192.1 166.5,192.2 167.1,192.2 167.7,192.2 168.3,192.2 168.9,192.3 169.5,192.3 170.2,192.3 170.8,192.3 171.4,192.4 172.0,192.4 172.6,192.4 173.2,192.4 173.9,192.4 174.5,192.5 175.1,192.5 175.7,192.5 176.3,192.5 176.9,192.5 177.6,192.6 178.2,192.6 178.8,192.6 179.4,192.6 180.0,192.7 180.6,192.7 181.3,192.7 181.9,192.7 182.5,192.7 183.1,192.7 183.7,192.8 184.3,192.8 185.0,192.8 185.6,192.8 186.2,192.8 186.8,192.9 187.4,192.9 188.0,192.9 188.7,192.9 189.3,192.9 189.9,192.9 190.5,193.0 191.1,193.0 191.7,193.0 192.4,193.0 193.0,193.0 193.6,193.0 194.2,193.0 194.8,193.1 195.4,193.1 196.1,193.1 196.7,193.1 197.3,193.1 197.9,193.1 198.5,193.1 199.1,193.2 199.8,193.2 200.4,193.2 201.0,193.2 201.6,193.2 202.2,193.2 202.8,193.2 203.5,193.3 204.1,193.3 204.7,193.3 205.3,193.3 205.9,193.3 206.5,193.3 207.2,193.3 207.8,193.3 208.4,193.4 209.0,193.4 209.6,193.4 210.2,193.4 210.9,193.4 211.5,193.4 212.1,193.4 212.7,193.4 213.3,193.4 213.9,193.5 214.6,193.5 215.2,193.5 215.8,193.5 216.4,193.5 217.0,193.5 217.6,193.5 218.3,193.5 218.9,193.5 219.5,193.5 220.1,193.6 220.7,193.6 221.3,193.6 222.0,193.6 222.6,193.6 223.2,193.6 223.8,193.6 224.4,193.6 225.0,193.6 225.6,193.6 226.3,193.7 226.9,193.7 227.5,193.7 228.1,193.7 228.7,193.7 229.3,193.7 230.0,193.7 230.6,193.7 231.2,193.7 231.8,193.7 232.4,193.7 233.0,193.8 233.7,193.8 234.3,193.8 234.9,193.8 235.5,193.8 236.1,193.8 236.7,193.8 237.4,193.8 238.0,193.8 238.6,193.8 239.2,193.8 239.8,193.8 240.4,193.9 241.1,193.9 241.7,193.9 242.3,193.9 242.9,193.9 243.5,193.9 244.1,193.9 244.8,193.9 245.4,193.9 246.0,193.9 246.6,193.9 247.2,193.9 247.8,193.9 248.5,194.0 249.1,194.0 249.7,194.0 250.3,194.0 250.9,194.0 251.5,194.0 252.2,194.0 252.8,194.0 253.4,194.0 254.0,194.0 254.6,194.0 255.2,194.0 255.9,194.0 256.5,194.0 257.1,194.1 257.7,194.1 258.3,194.1 258.9,194.1 259.6,194.1 260.2,194.1 260.8,194.1 261.4,194.1 262.0,194.1 262.6,194.1 263.3,194.1 263.9,194.1 264.5,194.1 265.1,194.1 265.7,194.1 266.3,194.2 267.0,194.2 267.6,194.2 268.2,194.2 268.8,194.2 269.4,194.2 270.0,194.2 270.7,194.2 271.3,194.2 271.9,194.2 272.5,194.2 273.1,194.2 273.7,194.2 274.4,194.2 275.0,194.2 275.6,194.2 276.2,194.3 276.8,194.3 277.4,194.3 278.1,194.3 278.7,194.3 279.3,194.3 279.9,194.3 280.5,194.3 281.1,194.3 281.8,194.3 282.4,194.3 283.0,194.3 283.6,194.3"/>
<polyline stroke="#D95319" points="45.0,224.0 45.6,223.7 46.2,223.4 46.9,223.1 47.5,222.8 48.1,222.4 48.7,222.1 49.3,221.6 49.9,221.2 50.6,220.8 51.2,220.3 51.8,219.8 52.4,219.2 53.0,218.6 53.6,218.0 54.3,217.4 54.9,216.8 55.5,216.1 56.1,215.3 56.7,214.6 57.3,213.8 58.0,213.0 58.6,212.1 59.2,211.3 59.8,210.4 60.4,209.4 61.0,208.5 61.7,207.5 62.3,206.5 62.9,205.5 63.5,204.4 64.1,203.4 64.7,202.3 65.4,201.3 66.0,200.2 66.6,199.1 67.2,198.1 67.8,197.1 68.4,196.1 69.1,195.1 69.7,194.1 70.3,193.2 70.9,192.3 71.5,191.5 72.1,190.7 72.8,190.0 73.4,189.3 74.0,188.7 74.6,188.1 75.2,187.6 75.8,187.1 76.5,186.6 77.1,186.2 77.7,185.9 78.3,185.6 78.9,185.3 79.5,185.1 80.2,184.9 80.8,184.8 81.4,184.6 82.0,184.5 82.6,184.4 83.2,184.4 83.9,184.4 84.5,184.3 85.1,184.3 85.7,184.4 86.3,184.4 86.9,184.4 87.6,184.5 88.2,184.5 88.8,184.6 89.4,184.7 90.0,184.8 90.6,184.9 91.3,184.9 91.9,185.0 92.5,185.1 93.1,185.2 93.7,185.3 94.3,185.4 95.0,185.5 95.6,185.6 96.2,185.7 96.8,185.8 97.4,185.9 98.0,186.1 98.7,186.2 99.3,186.3 99.9,186.4 100.5,186.5 101.1,186.6 101.7,186.7 102.3,186.8 103.0,186.9 103.6,187.0 104.2,187.0 104.8,187.1 105.4,187.2 106.0,187.3 106.7,187.4 107.3,187.5 107.9,187.6 108.5,187.7 109.1,187.8 109.7,187.8 110.4,187.9 111.0,188.0 111.6,188.1 112.2,188.2 112.8,188.2 113.4,188.3 114.1,188.4 114.7,188.5 115.3,188.5 115.9,188.6 116.5,188.7 117.1,188.7 117.8,188.8 118.4,188.9 119.0,188.9 119.6,189.0 120.2,189.1 120.8,189.1 121.5,189.2 122.1,189.3 122.7,189.3 123.3,189.4 123.9,189.4 124.5,189.5 125.2,189.6 125.8,189.6 126.4,189.7 127.0,189.7 127.6,189.8 128.2,189.8 128.9,189.9 129.5,189.9 130.1,190.0 130.7,190.0 131.3,190.1 131.9,190.1 132.6,190.2 133.2,190.2 133.8,190.3 134.4,190.3 135.0,190.4 135.6,190.4 136.3,190.4 136.9,190.5 137.5,190.5 138.1,190.6 138.7,190.6 139.3,190.7 140.0,190.7 140.6,190.7 141.2,190.8 141.8,190.8 142.4,190.9 143.0,190.9 143.7,190.9 144.3,191.0 144.9,191.0 145.5,191.1 146.1,191.1 146.7,191.1 147.4,191.2 148.0,191.2 148.6,191.2 149.2,191.3 149.8,191.3 150.4,191.3 151.1,191.4 151.7,191.4 152.3,191.4 152.9,191.5 153.5,191.5 154.1,191.5 154.8,191.6 155.4,191.6 156.0,191.6 156.6,191.7 157.2,191.7 157.8,191.7 158.5,191.8 159.1,191.8 159.7,191.8 160.3,191.9 160.9,191.9 161.5,191.9 162.1,192.0 162.8,192.0 163.4,192.0 164.0,192.0 164.6,192.1 165.2,192.1 165.8,192.1 166.5,192.2 167.1,192.2 167.7,192.2 168.3,192.2 168.9,192.3 169.5,192.3 170.2,192.3 170.8,192.4 171.4,192.4 172.0,192.4 172.6,192.4 173.2,192.5 173.9,192.5 174.5,192.5 175.1,192.6 175.7,192.6 176.3,192.6 176.9,192.6 177.6,192.7 178.2,192.7 178.8,192.7 179.4,192.7 180.0,192.8 180.6,192.8 181.3,192.8 181.9,192.8 182.5,192.9 183.1,192.9 183.7,192.9 184.3,192.9 185.0,193.0 185.6,193.0 186.2,193.0 186.8,193.0 187.4,193.1 188.0,193.1 188.7,193.1 189.3,193.1 189.9,193.2 190.5,193.2 191.1,193.2 191.7,193.2 192.4,193.3 193.0,193.3 193.6,193.3 194.2,193.3 194.8,193.4 195.4,193.4 196.1,193.4 196.7,193.4 197.3,193.5 197.9,193.5 198.5,193.5 199.1,193.5 199.8,193.5 200.4,193.6 201.0,193.6 201.6,193.6 202.2,193.6 202.8,193.7 203.5,193.7 204.1,193.7 204.7,193.7 205.3,193.8 205.9,193.8 206.5,193.8 207.2,193.8 207.8,193.8 208.4,193.9 209.0,193.9 209.6,193.9 210.2,193.9 210.9,194.0 211.5,194.0 212.1,194.0 212.7,194.0 213.3,194.0 213.9,194.1 214.6,194.1 215.2,194.1 215.8,194.1 216.4,194.2 217.0,194.2 217.6,194.2 218.3,194.2 218.9,194.3 219.5,194.3 220.1,194.3 220.7,194.3 221.3,194.3 222.0,194.4 222.6,194.4 223.2,194.4 223.8,194.4 224.4,194.4 225.0,194.5 225.6,194.5 226.3,194.5 226.9,194.5 227.5,194.6 228.1,194.6 228.7,194.6 229.3,194.6 230.0,194.6 230.6,194.7 231.2,194.7 231.8,194.7 232.4,194.7 233.0,194.8 233.7,194.8 234.3,194.8 234.9,194.8 235.5,194.8 236.1,194.9 236.7,194.9 237.4,194.9 238.0,194.9 238.6,194.9 239.2,195.0 239.8,195.0 240.4,195.0 241.1,195.0 241.7,195.1 242.3,195.1 242.9,195.1 243.5,195.1 244.1,195.1 244.8,195.2 245.4,195.2 246.0,195.2 246.6,195.2 247.2,195.3 247.8,195.3 248.5,195.3 249.1,195.3 249.7,195.3 250.3,195.4 250.9,195.4 251.5,195.4 252.2,195.4 252.8,195.4 253.4,195.5 254.0,195.5 254.6,195.5 255.2,195.5 255.9,195.5 256.5,195.6 257.1,195.6 257.7,195.6 258.3,195.6 258.9,195.7 259.6,195.7 260.2,195.7 260.8,195.7 261.4,195.7 262.0,195.8 262.6,195.8 263.3,195.8 263.9,195.8 264.5,195.8 265.1,195.9 265.7,195.9 266.3,195.9 267.0,195.9 267.6,196.0 268.2,196.0 268.8,196.0 269.4,196.0 270.0,196.0 270.7,196.1 271.3,196.1 271.9,196.1 272.5,196.1 273.1,196.1 273.7,196.2 274.4,196.2 275.0,196.2 275.6,196.2 276.2,196.2 276.8,196.3 277.4,196.3 278.1,196.3 278.7,196.3 279.3,196.4 279.9,196.4 280.5,196.4 281.1,196.4 281.8,196.4 282.4,196.5 283.0,196.5 283.6,196.5"/>
<polyline stroke="#EDB120" points="45.6,223.8 46.2,223.6 46.9,223.3 47.5,223.0 48.1,222.7 48.7,222.4 49.3,222.0 49.9,221.7 50.6,221.3 51.2,220.9 51.8,220.5 52.4,220.1 53.0,219.7 53.6,219.3 54.3,218.8 54.9,218.4 55.5,217.9 56.1,217.5 56.7,217.0 57.3,216.5 58.0,216.0 58.6,215.5 59.2,215.0 59.8,214.5 60.4,214.0 61.0,213.5 61.7,213.0 62.3,212.5 62.9,212.0 63.5,211.5 64.1,210.9 64.7,210.4 65.4,209.9 66.0,209.4 66.6,208.9 67.2,208.4 67.8,207.9 68.4,207.5 69.1,207.0 69.7,206.5 70.3,206.0 70.9,205.6 71.5,205.1 72.1,204.7 72.8,204.2 73.4,203.8 74.0,203.4 74.6,203.0 75.2,202.6 75.8,202.2 76.5,201.8 77.1,201.4 77.7,201.1 78.3,200.7 78.9,200.3 79.5,200.0 80.2,199.7 80.8,199.4 81.4,199.0 82.0,198.7 82.6,198.4 83.2,198.2 83.9,197.9 84.5,197.6 85.1,197.3 85.7,197.1 86.3,196.8 86.9,196.6 87.6,196.4 88.2,196.1 88.8,195.9 89.4,195.7 90.0,195.5 90.6,195.3 91.3,195.1 91.9,194.9 92.5,194.8 93.1,194.6 93.7,194.4 94.3,194.3 95.0,194.1 95.6,194.0 96.2,193.8 96.8,193.7 97.4,193.6 98.0,193.4 98.7,193.3 99.3,193.2 99.9,193.1 100.5,193.0 101.1,192.9 101.7,192.8 102.3,192.7 103.0,192.6 103.6,192.5 104.2,192.4 104.8,192.3 105.4,192.2 106.0,192.2 106.7,192.1 107.3,192.0 107.9,191.9 108.5,191.9 109.1,191.8 109.7,191.8 110.4,191.7 111.0,191.7 111.6,191.6 112.2,191.6 112.8,191.5 113.4,191.5 114.1,191.4 114.7,191.4 115.3,191.3 115.9,191.3 116.5,191.3 117.1,191.2 117.8,191.2 118.4,191.2 119.0,191.2 119.6,191.1 120.2,191.1 120.8,191.1 121.5,191.1 122.1,191.1 122.7,191.0 123.3,191.0 123.9,191.0 124.5,191.0 125.2,191.0 125.8,191.0 126.4,191.0 127.0,191.0 127.6,191.0 128.2,191.0 128.9,191.0 129.5,191.0 130.1,191.0 130.7,191.0 131.3,191.0 131.9,191.0 132.6,191.0 133.2,191.0 133.8,191.0 134.4,191.0 135.0,191.0 135.6,191.0 136.3,191.0 136.9,191.0 137.5,191.0 138.1,191.0 138.7,191.1 139.3,191.1 140.0,191.1 140.6,191.1 141.2,191.1 141.8,191.1 142.4,191.2 143.0,191.2 143.7,191.2 144.3,191.2 144.9,191.2 145.5,191.2 146.1,191.3 146.7,191.3 147.4,191.3 148.0,191.3 148.6,191.4 149.2,191.4 149.8,191.4 150.4,191.4 151.1,191.4 151.7,191.5 152.3,191.5 152.9,191.5 153.5,191.6 154.1,191.6 154.8,191.6 155.4,191.6 156.0,191.7 156.6,191.7 157.2,191.7 157.8,191.7 158.5,191.8 159.1,191.8 159.7,191.8 160.3,191.9 160.9,191.9 161.5,191.9 162.1,192.0 162.8,192.0 163.4,192.0 164.0,192.1 164.6,192.1 165.2,192.1 165.8,192.2 166.5,192.2 167.1,192.2 167.7,192.3 168.3,192.3 168.9,192.3 169.5,192.4 170.2,192.4 170.8,192.4 171.4,192.5 172.0,192.5 172.6,192.5 173.2,192.6 173.9,192.6 174.5,192.6 175.1,192.7 175.7,192.7 176.3,192.8 176.9,192.8 177.6,192.8 178.2,192.9 178.8,192.9 179.4,192.9 180.0,193.0 180.6,193.0 181.3,193.1 181.9,193.1 182.5,193.1 183.1,193.2 183.7,193.2 184.3,193.2 185.0,193.3 185.6,193.3 186.2,193.4 186.8,193.4 187.4,193.4 188.0,193.5 188.7,193.5 189.3,193.6 189.9,193.6 190.5,193.6 191.1,193.7 191.7,193.7 192.4,193.8 193.0,193.8 193.6,193.8 194.2,193.9 194.8,193.9 195.4,194.0 196.1,194.0 196.7,194.0 197.3,194.1 197.9,194.1 198.5,194.2 199.1,194.2 199.8,194.3 200.4,194.3 201.0,194.3 201.6,194.4 202.2,194.4 202.8,194.5 203.5,194.5 204.1,194.5 204.7,194.6 205.3,194.6 205.9,194.7 206.5,194.7 207.2,194.7 207.8,194.8 208.4,194.8 209.0,194.9 209.6,194.9 210.2,195.0 210.9,195.0 211.5,195.0 212.1,195.1 212.7,195.1 213.3,195.2 213.9,195.2 214.6,195.2 215.2,195.3 215.8,195.3 216.4,195.4 217.0,195.4 217.6,195.5 218.3,195.5 218.9,195.5 219.5,195.6 220.1,195.6 220.7,195.7 221.3,195.7 222.0,195.8 222.6,195.8 223.2,195.8 223.8,195.9 224.4,195.9 225.0,196.0 225.6,196.0 226.3,196.0 226.9,196.1 227.5,196.1 228.1,196.2 228.7,196.2 229.3,196.3 230.0,196.3 230.6,196.3 231.2,196.4 231.8,196.4 232.4,196.5 233.0,196.5 233.7,196.5 234.3,196.6 234.9,196.6 235.5,196.7 236.1,196.7 236.7,196.7 237.4,196.8 238.0,196.8 238.6,196.9 239.2,196.9 239.8,197.0 240.4,197.0 241.1,197.0 241.7,197.1 242.3,197.1 242.9,197.2 243.5,197.2 244.1,197.2 244.8,197.3 245.4,197.3 246.0,197.4 246.6,197.4 247.2,197.4 247.8,197.5 248.5,197.5 249.1,197.6 249.7,197.6 250.3,197.6 250.9,197.7 251.5,197.7 252.2,197.8 252.8,197.8 253.4,197.9 254.0,197.9 254.6,197.9 255.2,198.0 255.9,198.0 256.5,198.1 257.1,198.1 257.7,198.1 258.3,198.2 258.9,198.2 259.6,198.2 260.2,198.3 260.8,198.3 261.4,198.4 262.0,198.4 262.6,198.4 263.3,198.5 263.9,198.5 264.5,198.6 265.1,198.6 265.7,198.6 266.3,198.7 267.0,198.7 267.6,198.8 268.2,198.8 268.8,198.8 269.4,198.9 270.0,198.9 270.7,199.0 271.3,199.0 271.9,199.0 272.5,199.1 273.1,199.1 273.7,199.1 274.4,199.2 275.0,199.2 275.6,199.3 276.2,199.3 276.8,199.3 277.4,199.4 278.1,199.4 278.7,199.5 279.3,199.5 279.9,199.5 280.5,199.6 281.1,199.6 281.8,199.6 282.4,199.7 283.0,199.7 283.6,199.8"/>
<polyline stroke="#7E2F8E" points="46.9,223.5 47.5,223.2 48.1,223.0 48.7,222.7 49.3,222.4 49.9,222.1 50.6,221.8 51.2,221.6 51.8,221.3 52.4,221.0 53.0,220.6 53.6,220.3 54.3,220.0 54.9,219.7 55.5,219.4 56.1,219.1 56.7,218.7 57.3,218.4 58.0,218.1 58.6,217.8 59.2,217.4 59.8,217.1 60.4,216.8 61.0,216.5 61.7,216.1 62.3,215.8 62.9,215.5 63.5,215.1 64.1,214.8 64.7,214.5 65.4,214.2 66.0,213.8 66.6,213.5 67.2,213.2 67.8,212.9 68.4,212.5 69.1,212.2 69.7,211.9 70.3,211.6 70.9,211.3 71.5,211.0 72.1,210.7 72.8,210.3 73.4,210.0 74.0,209.7 74.6,209.4 75.2,209.1 75.8,208.8 76.5,208.5 77.1,208.2 77.7,207.9 78.3,207.6 78.9,207.3 79.5,207.0 80.2,206.7 80.8,206.5 81.4,206.2 82.0,205.9 82.6,205.6 83.2,205.3 83.9,205.1 84.5,204.8 85.1,204.5 85.7,204.2 86.3,204.0 86.9,203.7 87.6,203.5 88.2,203.2 88.8,202.9 89.4,202.7 90.0,202.4 90.6,202.2 91.3,201.9 91.9,201.7 92.5,201.4 93.1,201.2 93.7,201.0 94.3,200.7 95.0,200.5 95.6,200.3 96.2,200.1 96.8,199.8 97.4,199.6 98.0,199.4 98.7,199.2 99.3,199.0 99.9,198.8 100.5,198.6 101.1,198.4 101.7,198.2 102.3,198.0 103.0,197.8 103.6,197.6 104.2,197.4 104.8,197.2 105.4,197.0 106.0,196.9 106.7,196.7 107.3,196.5 107.9,196.3 108.5,196.2 109.1,196.0 109.7,195.9 110.4,195.7 111.0,195.6 111.6,195.4 112.2,195.3 112.8,195.1 113.4,195.0 114.1,194.8 114.7,194.7 115.3,194.6 115.9,194.4 116.5,194.3 117.1,194.2 117.8,194.1 118.4,194.0 119.0,193.8 119.6,193.7 120.2,193.6 120.8,193.5 121.5,193.4 122.1,193.3 122.7,193.2 123.3,193.1 123.9,193.0 124.5,193.0 125.2,192.9 125.8,192.8 126.4,192.7 127.0,192.6 127.6,192.6 128.2,192.5 128.9,192.4 129.5,192.4 130.1,192.3 130.7,192.2 131.3,192.2 131.9,192.1 132.6,192.1 133.2,192.0 133.8,192.0 134.4,191.9 135.0,191.9 135.6,191.9 136.3,191.8 136.9,191.8 137.5,191.8 138.1,191.7 138.7,191.7 139.3,191.7 140.0,191.6 140.6,191.6 141.2,191.6 141.8,191.6 142.4,191.6 143.0,191.6 143.7,191.5 144.3,191.5 144.9,191.5 145.5,191.5 146.1,191.5 146.7,191.5 147.4,191.5 148.0,191.5 148.6,191.5 149.2,191.5 149.8,191.5 150.4,191.5 151.1,191.6 151.7,191.6 152.3,191.6 152.9,191.6 153.5,191.6 154.1,191.6 154.8,191.6 155.4,191.7 156.0,191.7 156.6,191.7 157.2,191.7 157.8,191.8 158.5,191.8 159.1,191.8 159.7,191.8 160.3,191.9 160.9,191.9 161.5,191.9 162.1,192.0 162.8,192.0 163.4,192.0 164.0,192.1 164.6,192.1 165.2,192.1 165.8,192.2 166.5,192.2 167.1,192.3 167.7,192.3 168.3,192.4 168.9,192.4 169.5,192.4 170.2,192.5 170.8,192.5 171.4,192.6 172.0,192.6 172.6,192.7 173.2,192.7 173.9,192.8 174.5,192.8 175.1,192.9 175.7,192.9 176.3,193.0 176.9,193.0 177.6,193.1 178.2,193.1 178.8,193.2 179.4,193.2 180.0,193.3 180.6,193.4 181.3,193.4 181.9,193.5 182.5,193.5 183.1,193.6 183.7,193.6 184.3,193.7 185.0,193.8 185.6,193.8 186.2,193.9 186.8,193.9 187.4,194.0 188.0,194.1 188.7,194.1 189.3,194.2 189.9,194.2 190.5,194.3 191.1,194.4 191.7,194.4 192.4,194.5 193.0,194.5 193.6,194.6 194.2,194.7 194.8,194.7 195.4,194.8 196.1,194.9 196.7,194.9 197.3,195.0 197.9,195.0 198.5,195.1 199.1,195.2 199.8,195.2 200.4,195.3 201.0,195.4 201.6,195.4 202.2,195.5 202.8,195.6 203.5,195.6 204.1,195.7 204.7,195.7 205.3,195.8 205.9,195.9 206.5,195.9 207.2,196.0 207.8,196.1 208.4,196.1 209.0,196.2 209.6,196.3 210.2,196.3 210.9,196.4 211.5,196.4 212.1,196.5 212.7,196.6 213.3,196.6 213.9,196.7 214.6,196.8 215.2,196.8 215.8,196.9 216.4,197.0 217.0,197.0 217.6,197.1 218.3,197.1 218.9,197.2 219.5,197.3 220.1,197.3 220.7,197.4 221.3,197.5 222.0,197.5 222.6,197.6 223.2,197.7 223.8,197.7 224.4,197.8 225.0,197.8 225.6,197.9 226.3,198.0 226.9,198.0 227.5,198.1 228.1,198.1 228.7,198.2 229.3,198.3 230.0,198.3 230.6,198.4 231.2,198.5 231.8,198.5 232.4,198.6 233.0,198.6 233.7,198.7 234.3,198.8 234.9,198.8 235.5,198.9 236.1,198.9 236.7,199.0 237.4,199.1 238.0,199.1 238.6,199.2 239.2,199.2 239.8,199.3 240.4,199.4 241.1,199.4 241.7,199.5 242.3,199.5 242.9,199.6 243.5,199.7 244.1,199.7 244.8,199.8 245.4,199.8 246.0,199.9 246.6,199.9 247.2,200.0 247.8,200.1 248.5,200.1 249.1,200.2 249.7,200.2 250.3,200.3 250.9,200.3 251.5,200.4 252.2,200.4 252.8,200.5 253.4,200.6 254.0,200.6 254.6,200.7 255.2,200.7 255.9,200.8 256.5,200.8 257.1,200.9 257.7,200.9 258.3,201.0 258.9,201.1 259.6,201.1 260.2,201.2 260.8,201.2 261.4,201.3 262.0,201.3 262.6,201.4 263.3,201.4 263.9,201.5 264.5,201.5 265.1,201.6 265.7,201.6 266.3,201.7 267.0,201.7 267.6,201.8 268.2,201.8 268.8,201.9 269.4,201.9 270.0,202.0 270.7,202.0 271.3,202.1 271.9,202.1 272.5,202.2 273.1,202.3 273.7,202.3 274.4,202.4 275.0,202.4 275.6,202.4 276.2,202.5 276.8,202.5 277.4,202.6 278.1,202.6 278.7,202.7 279.3,202.7 279.9,202.8 280.5,202.8 281.1,202.9 281.8,202.9 282.4,203.0 283.0,203.0 283.6,203.1"/>
<polyline stroke="#17851F" points="49.3,222.8 49.9,222.6 50.6,222.3 51.2,222.1 51.8,221.9 52.4,221.6 53.0,221.4 53.6,221.2 54.3,220.9 54.9,220.7 55.5,220.5 56.1,220.2 56.7,220.0 57.3,219.7 58.0,219.5 58.6,219.3 59.2,219.0 59.8,218.8 60.4,218.5 61.0,218.3 61.7,218.1 62.3,217.8 62.9,217.6 63.5,217.3 64.1,217.1 64.7,216.9 65.4,216.6 66.0,216.4 66.6,216.1 67.2,215.9 67.8,215.7 68.4,215.4 69.1,215.2 69.7,214.9 70.3,214.7 70.9,214.5 71.5,214.2 72.1,214.0 72.8,213.7 73.4,213.5 74.0,213.2 74.6,213.0 75.2,212.8 75.8,212.5 76.5,212.3 77.1,212.0 77.7,211.8 78.3,211.6 78.9,211.3 79.5,211.1 80.2,210.8 80.8,210.6 81.4,210.3 82.0,210.1 82.6,209.9 83.2,209.6 83.9,209.4 84.5,209.1 85.1,208.9 85.7,208.6 86.3,208.4 86.9,208.2 87.6,207.9 88.2,207.7 88.8,207.4 89.4,207.2 90.0,206.9 90.6,206.7 91.3,206.5 91.9,206.2 92.5,206.0 93.1,205.7 93.7,205.5 94.3,205.3 95.0,205.0 95.6,204.8 96.2,204.5 96.8,204.3 97.4,204.1 98.0,203.8 98.7,203.6 99.3,203.4 99.9,203.1 100.5,202.9 101.1,202.7 101.7,202.4 102.3,202.2 103.0,202.0 103.6,201.8 104.2,201.5 104.8,201.3 105.4,201.1 106.0,200.9 106.7,200.6 107.3,200.4 107.9,200.2 108.5,200.0 109.1,199.8 109.7,199.6 110.4,199.3 111.0,199.1 111.6,198.9 112.2,198.7 112.8,198.5 113.4,198.3 114.1,198.1 114.7,197.9 115.3,197.7 115.9,197.5 116.5,197.3 117.1,197.2 117.8,197.0 118.4,196.8 119.0,196.6 119.6,196.4 120.2,196.3 120.8,196.1 121.5,195.9 122.1,195.7 122.7,195.6 123.3,195.4 123.9,195.3 124.5,195.1 125.2,195.0 125.8,194.8 126.4,194.7 127.0,194.5 127.6,194.4 128.2,194.3 128.9,194.1 129.5,194.0 130.1,193.9 130.7,193.7 131.3,193.6 131.9,193.5 132.6,193.4 133.2,193.3 133.8,193.2 134.4,193.1 135.0,193.0 135.6,192.9 136.3,192.8 136.9,192.7 137.5,192.6 138.1,192.6 138.7,192.5 139.3,192.4 140.0,192.3 140.6,192.3 141.2,192.2 141.8,192.2 142.4,192.1 143.0,192.1 143.7,192.0 144.3,192.0 144.9,191.9 145.5,191.9 146.1,191.8 146.7,191.8 147.4,191.8 148.0,191.8 148.6,191.7 149.2,191.7 149.8,191.7 150.4,191.7 151.1,191.7 151.7,191.7 152.3,191.7 152.9,191.7 153.5,191.7 154.1,191.7 154.8,191.7 155.4,191.7 156.0,191.7 156.6,191.7 157.2,191.7 157.8,191.8 158.5,191.8 159.1,191.8 159.7,191.8 160.3,191.9 160.9,191.9 161.5,191.9 162.1,192.0 162.8,192.0 163.4,192.0 164.0,192.1 164.6,192.1 165.2,192.2 165.8,192.2 166.5,192.3 167.1,192.3 167.7,192.4 168.3,192.4 168.9,192.5 169.5,192.5 170.2,192.6 170.8,192.7 171.4,192.7 172.0,192.8 172.6,192.9 173.2,192.9 173.9,193.0 174.5,193.1 175.1,193.1 175.7,193.2 176.3,193.3 176.9,193.3 177.6,193.4 178.2,193.5 178.8,193.6 179.4,193.6 180.0,193.7 180.6,193.8 181.3,193.9 181.9,193.9 182.5,194.0 183.1,194.1 183.7,194.2 184.3,194.3 185.0,194.3 185.6,194.4 186.2,194.5 186.8,194.6 187.4,194.7 188.0,194.8 188.7,194.8 189.3,194.9 189.9,195.0 190.5,195.1 191.1,195.2 191.7,195.3 192.4,195.4 193.0,195.4 193.6,195.5 194.2,195.6 194.8,195.7 195.4,195.8 196.1,195.9 196.7,196.0 197.3,196.1 197.9,196.1 198.5,196.2 199.1,196.3 199.8,196.4 200.4,196.5 201.0,196.6 201.6,196.7 202.2,196.8 202.8,196.8 203.5,196.9 204.1,197.0 204.7,197.1 205.3,197.2 205.9,197.3 206.5,197.4 207.2,197.5 207.8,197.5 208.4,197.6 209.0,197.7 209.6,197.8 210.2,197.9 210.9,198.0 211.5,198.1 212.1,198.1 212.7,198.2 213.3,198.3 213.9,198.4 214.6,198.5 215.2,198.6 215.8,198.6 216.4,198.7 217.0,198.8 217.6,198.9 218.3,199.0 218.9,199.1 219.5,199.1 220.1,199.2 220.7,199.3 221.3,199.4 222.0,199.5 222.6,199.5 223.2,199.6 223.8,199.7 224.4,199.8 225.0,199.9 225.6,199.9 226.3,200.0 226.9,200.1 227.5,200.2 228.1,200.3 228.7,200.3 229.3,200.4 230.0,200.5 230.6,200.6 231.2,200.6 231.8,200.7 232.4,200.8 233.0,200.9 233.7,200.9 234.3,201.0 234.9,201.1 235.5,201.2 236.1,201.2 236.7,201.3 237.4,201.4 238.0,201.5 238.6,201.5 239.2,201.6 239.8,201.7 240.4,201.8 241.1,201.8 241.7,201.9 242.3,202.0 242.9,202.0 243.5,202.1 244.1,202.2 244.8,202.2 245.4,202.3 246.0,202.4 246.6,202.5 247.2,202.5 247.8,202.6 248.5,202.7 249.1,202.7 249.7,202.8 250.3,202.9 250.9,202.9 251.5,203.0 252.2,203.1 252.8,203.1 253.4,203.2 254.0,203.2 254.6,203.3 255.2,203.4 255.9,203.4 256.5,203.5 257.1,203.6 257.7,203.6 258.3,203.7 258.9,203.8 259.6,203.8 260.2,203.9 260.8,203.9 261.4,204.0 262.0,204.1 262.6,204.1 263.3,204.2 263.9,204.2 264.5,204.3 265.1,204.4 265.7,204.4 266.3,204.5 267.0,204.5 267.6,204.6 268.2,204.6 268.8,204.7 269.4,204.8 270.0,204.8 270.7,204.9 271.3,204.9 271.9,205.0 272.5,205.0 273.1,205.1 273.7,205.2 274.4,205.2 275.0,205.3 275.6,205.3 276.2,205.4 276.8,205.4 277.4,205.5 278.1,205.5 278.7,205.6 279.3,205.6 279.9,205.7 280.5,205.7 281.1,205.8 281.8,205.9 282.4,205.9 283.0,206.0 283.6,206.0"/>
<polyline stroke="#4DBEEE" stroke-width="1.8" points="37.0,225.6 37.6,225.6 38.2,225.6 38.8,225.5 39.5,225.5 40.1,225.4 40.7,225.3 41.3,225.2 41.9,225.1 42.5,224.9 43.2,224.8 43.8,224.6 44.4,224.5 45.0,224.3 45.6,224.2 46.2,224.0 46.9,223.8 47.5,223.6 48.1,223.5 48.7,223.3 49.3,223.1 49.9,222.9 50.6,222.7 51.2,222.6 51.8,222.4 52.4,222.2 53.0,222.0 53.6,221.8 54.3,221.6 54.9,221.4 55.5,221.2 56.1,221.1 56.7,220.9 57.3,220.7 58.0,220.5 58.6,220.3 59.2,220.1 59.8,219.9 60.4,219.7 61.0,219.6 61.7,219.4 62.3,219.2 62.9,219.0 63.5,218.8 64.1,218.6 64.7,218.4 65.4,218.2 66.0,218.0 66.6,217.8 67.2,217.6 67.8,217.5 68.4,217.3 69.1,217.1 69.7,216.9 70.3,216.7 70.9,216.5 71.5,216.3 72.1,216.1 72.8,215.9 73.4,215.7 74.0,215.5 74.6,215.3 75.2,215.1 75.8,214.9 76.5,214.7 77.1,214.5 77.7,214.3 78.3,214.1 78.9,213.9 79.5,213.7 80.2,213.5 80.8,213.3 81.4,213.1 82.0,212.8 82.6,212.6 83.2,212.4 83.9,212.2 84.5,212.0 85.1,211.8 85.7,211.6 86.3,211.4 86.9,211.1 87.6,210.9 88.2,210.7 88.8,210.5 89.4,210.3 90.0,210.1 90.6,209.8 91.3,209.6 91.9,209.4 92.5,209.2 93.1,208.9 93.7,208.7 94.3,208.5 95.0,208.3 95.6,208.0 96.2,207.8 96.8,207.6 97.4,207.4 98.0,207.1 98.7,206.9 99.3,206.7 99.9,206.4 100.5,206.2 101.1,206.0 101.7,205.7 102.3,205.5 103.0,205.3 103.6,205.0 104.2,204.8 104.8,204.6 105.4,204.3 106.0,204.1 106.7,203.9 107.3,203.6 107.9,203.4 108.5,203.1 109.1,202.9 109.7,202.7 110.4,202.4 111.0,202.2 111.6,202.0 112.2,201.7 112.8,201.5 113.4,201.3 114.1,201.0 114.7,200.8 115.3,200.6 115.9,200.3 116.5,200.1 117.1,199.9 117.8,199.7 118.4,199.4 119.0,199.2 119.6,199.0 120.2,198.8 120.8,198.6 121.5,198.3 122.1,198.1 122.7,197.9 123.3,197.7 123.9,197.5 124.5,197.3 125.2,197.1 125.8,196.9 126.4,196.7 127.0,196.5 127.6,196.3 128.2,196.1 128.9,195.9 129.5,195.7 130.1,195.5 130.7,195.4 131.3,195.2 131.9,195.0 132.6,194.9 133.2,194.7 133.8,194.5 134.4,194.4 135.0,194.2 135.6,194.1 136.3,193.9 136.9,193.8 137.5,193.7 138.1,193.5 138.7,193.4 139.3,193.3 140.0,193.2 140.6,193.1 141.2,192.9 141.8,192.8 142.4,192.7 143.0,192.6 143.7,192.6 144.3,192.5 144.9,192.4 145.5,192.3 146.1,192.2 146.7,192.2 147.4,192.1 148.0,192.1 148.6,192.0 149.2,192.0 149.8,191.9 150.4,191.9 151.1,191.9 151.7,191.8 152.3,191.8 152.9,191.8 153.5,191.8 154.1,191.8 154.8,191.7 155.4,191.7 156.0,191.7 156.6,191.7 157.2,191.8 157.8,191.8 158.5,191.8 159.1,191.8 159.7,191.8 160.3,191.9 160.9,191.9 161.5,191.9 162.1,192.0 162.8,192.0 163.4,192.1 164.0,192.1 164.6,192.2 165.2,192.2 165.8,192.3 166.5,192.3 167.1,192.4 167.7,192.5 168.3,192.5 168.9,192.6 169.5,192.7 170.2,192.8 170.8,192.8 171.4,192.9 172.0,193.0 172.6,193.1 173.2,193.2 173.9,193.3 174.5,193.3 175.1,193.4 175.7,193.5 176.3,193.6 176.9,193.7 177.6,193.8 178.2,193.9 178.8,194.0 179.4,194.1 180.0,194.2 180.6,194.3 181.3,194.4 181.9,194.5 182.5,194.6 183.1,194.7 183.7,194.8 184.3,194.9 185.0,195.0 185.6,195.2 186.2,195.3 186.8,195.4 187.4,195.5 188.0,195.6 188.7,195.7 189.3,195.8 189.9,195.9 190.5,196.0 191.1,196.1 191.7,196.3 192.4,196.4 193.0,196.5 193.6,196.6 194.2,196.7 194.8,196.8 195.4,196.9 196.1,197.0 196.7,197.1 197.3,197.3 197.9,197.4 198.5,197.5 199.1,197.6 199.8,197.7 200.4,197.8 201.0,197.9 201.6,198.0 202.2,198.1 202.8,198.2 203.5,198.4 204.1,198.5 204.7,198.6 205.3,198.7 205.9,198.8 206.5,198.9 207.2,199.0 207.8,199.1 208.4,199.2 209.0,199.3 209.6,199.4 210.2,199.5 210.9,199.6 211.5,199.7 212.1,199.8 212.7,199.9 213.3,200.0 213.9,200.1 214.6,200.2 215.2,200.3 215.8,200.4 216.4,200.5 217.0,200.6 217.6,200.7 218.3,200.8 218.9,200.9 219.5,201.0 220.1,201.1 220.7,201.2 221.3,201.3 222.0,201.4 222.6,201.5 223.2,201.6 223.8,201.7 224.4,201.8 225.0,201.9 225.6,202.0 226.3,202.1 226.9,202.1 227.5,202.2 228.1,202.3 228.7,202.4 229.3,202.5 230.0,202.6 230.6,202.7 231.2,202.8 231.8,202.8 232.4,202.9 233.0,203.0 233.7,203.1 234.3,203.2 234.9,203.3 235.5,203.3 236.1,203.4 236.7,203.5 237.4,203.6 238.0,203.7 238.6,203.8 239.2,203.8 239.8,203.9 240.4,204.0 241.1,204.1 241.7,204.1 242.3,204.2 242.9,204.3 243.5,204.4 244.1,204.5 244.8,204.5 245.4,204.6 246.0,204.7 246.6,204.8 247.2,204.8 247.8,204.9 248.5,205.0 249.1,205.0 249.7,205.1 250.3,205.2 250.9,205.3 251.5,205.3 252.2,205.4 252.8,205.5 253.4,205.5 254.0,205.6 254.6,205.7 255.2,205.7 255.9,205.8 256.5,205.9 257.1,205.9 257.7,206.0 258.3,206.1 258.9,206.1 259.6,206.2 260.2,206.3 260.8,206.3 261.4,206.4 262.0,206.5 262.6,206.5 263.3,206.6 263.9,206.6 264.5,206.7 265.1,206.8 265.7,206.8 266.3,206.9 267.0,206.9 267.6,207.0 268.2,207.1 268.8,207.1 269.4,207.2 270.0,207.2 270.7,207.3 271.3,207.4 271.9,207.4 272.5,207.5 273.1,207.5 273.7,207.6 274.4,207.6 275.0,207.7 275.6,207.7 276.2,207.8 276.8,207.9 277.4,207.9 278.1,208.0 278.7,208.0 279.3,208.1 279.9,208.1 280.5,208.2 281.1,208.2 281.8,208.3 282.4,208.3 283.0,208.4 283.6,208.4"/>
<path d="M37.0 188.49H283.6" stroke="#0AFA0A" stroke-width="1.45" stroke-dasharray="5.6 5.6"/>
<path d="M37.0 195.24H283.6" stroke="#FF0A0A" stroke-width="1.45" stroke-dasharray="5.6 5.6"/>
</g>
<text class="tk" x="33.5" y="229.4" text-anchor="end">0</text>
<text class="tk" x="33.5" y="212.5" text-anchor="end">0.5</text>
<text class="tk" x="33.5" y="195.7" text-anchor="end">1</text>
<text class="tk" x="33.5" y="178.8" text-anchor="end">1.5</text>
<text class="tk" x="33.5" y="161.9" text-anchor="end">2</text>
<text class="tk" x="33.5" y="145.1" text-anchor="end">2.5</text>
<text class="tk" x="33.5" y="128.2" text-anchor="end">3</text>
<text class="al" transform="translate(15.5 175.4) rotate(-90)" text-anchor="middle">Voltage Gain</text>
<text class="tk" x="37.0" y="238.6" text-anchor="middle">0</text>
<text class="tk" x="61.7" y="238.6" text-anchor="middle">0.2</text>
<text class="tk" x="86.3" y="238.6" text-anchor="middle">0.4</text>
<text class="tk" x="111.0" y="238.6" text-anchor="middle">0.6</text>
<text class="tk" x="135.6" y="238.6" text-anchor="middle">0.8</text>
<text class="tk" x="160.3" y="238.6" text-anchor="middle">1</text>
<text class="tk" x="185.0" y="238.6" text-anchor="middle">1.2</text>
<text class="tk" x="209.6" y="238.6" text-anchor="middle">1.4</text>
<text class="tk" x="234.3" y="238.6" text-anchor="middle">1.6</text>
<text class="tk" x="258.9" y="238.6" text-anchor="middle">1.8</text>
<text class="tk" x="283.6" y="238.6" text-anchor="middle">2</text>
<text class="al" x="160.0" y="250.6" text-anchor="middle" style="font-size:12.3px">Normalized Frequency</text>
<text class="bi" transform="translate(144.1 138.2) scale(1 0.97)" fill="#A2142F" stroke="#A2142F">m=12</text>
<text class="bi" transform="translate(186.7 177.7) scale(1 0.9)" fill="#0AFA0A" stroke="#0AFA0A">max gain</text>
<text class="bi" transform="translate(140.5 214.0) scale(1 0.9)" fill="#FF0A0A" stroke="#FF0A0A">min gain</text>
<rect x="257.0" y="123.9" width="26.600000000000023" height="60.0" fill="#fff" stroke="#c8c8c8" stroke-width="0.6"/>
<path d="M257.0 135.5H283.6" stroke="#c8c8c8" stroke-width="0.6"/>
<text class="lg" x="262.2" y="132.0" style="font-size:7.4px;stroke-width:0.45px">Q<tspan style="font-size:5.7px;stroke-width:0.3px" dx="0.3" dy="2.3">load</tspan></text>
<path d="M258.3 140.40h13.8" stroke="#0072BD" stroke-width="1.75"/>
<text class="lg" x="273.8" y="142.60">0.1</text>
<path d="M258.3 148.20h13.8" stroke="#D95319" stroke-width="1.75"/>
<text class="lg" x="273.8" y="150.40">0.3</text>
<path d="M258.3 156.00h13.8" stroke="#EDB120" stroke-width="1.75"/>
<text class="lg" x="273.8" y="158.20">0.5</text>
<path d="M258.3 163.80h13.8" stroke="#7E2F8E" stroke-width="1.75"/>
<text class="lg" x="273.8" y="166.00">0.7</text>
<path d="M258.3 171.60h13.8" stroke="#17851F" stroke-width="1.75"/>
<text class="lg" x="273.8" y="173.80">0.9</text>
<path d="M258.3 179.40h13.8" stroke="#4DBEEE" stroke-width="1.75"/>
<text class="lg" x="273.8" y="181.60">1.1</text>
</g>
<g>
<path d="M318.65 124.4V225.6M343.30 124.4V225.6M367.95 124.4V225.6M392.60 124.4V225.6M417.25 124.4V225.6M441.90 124.4V225.6M466.55 124.4V225.6M491.20 124.4V225.6M515.85 124.4V225.6M294.0 208.73H540.5M294.0 191.87H540.5M294.0 175.00H540.5M294.0 158.13H540.5M294.0 141.27H540.5M294.0 124.40H540.5" stroke="#efefef" stroke-width="0.5" fill="none"/>
<path d="M294.0 124.4V225.6" stroke="#8c8c8c" stroke-width="0.6" fill="none"/>
<path d="M294.0 225.6H540.5M294.00 225.6v-2.6M318.65 225.6v-2.6M343.30 225.6v-2.6M367.95 225.6v-2.6M392.60 225.6v-2.6M417.25 225.6v-2.6M441.90 225.6v-2.6M466.55 225.6v-2.6M491.20 225.6v-2.6M515.85 225.6v-2.6M540.50 225.6v-2.6M293.7 225.60h2.6M293.7 208.73h2.6M293.7 191.87h2.6M293.7 175.00h2.6M293.7 158.13h2.6M293.7 141.27h2.6M293.7 124.40h2.6" stroke="#3a3a3a" stroke-width="0.75" fill="none"/>
<path d="M300.16 225.6v-1.4M306.32 225.6v-1.4M312.49 225.6v-1.4M324.81 225.6v-1.4M330.98 225.6v-1.4M337.14 225.6v-1.4M349.46 225.6v-1.4M355.62 225.6v-1.4M361.79 225.6v-1.4M374.11 225.6v-1.4M380.27 225.6v-1.4M386.44 225.6v-1.4M398.76 225.6v-1.4M404.93 225.6v-1.4M411.09 225.6v-1.4M423.41 225.6v-1.4M429.58 225.6v-1.4M435.74 225.6v-1.4M448.06 225.6v-1.4M454.23 225.6v-1.4M460.39 225.6v-1.4M472.71 225.6v-1.4M478.88 225.6v-1.4M485.04 225.6v-1.4M497.36 225.6v-1.4M503.53 225.6v-1.4M509.69 225.6v-1.4M522.01 225.6v-1.4M528.17 225.6v-1.4M534.34 225.6v-1.4M293.7 222.23h1.5M293.7 218.85h1.5M293.7 215.48h1.5M293.7 212.11h1.5M293.7 205.36h1.5M293.7 201.99h1.5M293.7 198.61h1.5M293.7 195.24h1.5M293.7 188.49h1.5M293.7 185.12h1.5M293.7 181.75h1.5M293.7 178.37h1.5M293.7 171.63h1.5M293.7 168.25h1.5M293.7 164.88h1.5M293.7 161.51h1.5M293.7 154.76h1.5M293.7 151.39h1.5M293.7 148.01h1.5M293.7 144.64h1.5M293.7 137.89h1.5M293.7 134.52h1.5M293.7 131.15h1.5M293.7 127.77h1.5" stroke="#555" stroke-width="0.45" fill="none"/>
<g clip-path="url(#cp11)" fill="none" stroke-width="1.65" stroke-linejoin="round">
<polyline stroke="#0072BD" points="300.2,224.2 300.8,223.9 301.4,223.5 302.0,223.2 302.6,222.7 303.2,222.3 303.9,221.8 304.5,221.2 305.1,220.6 305.7,219.9 306.3,219.2 306.9,218.4 307.6,217.6 308.2,216.6 308.8,215.6 309.4,214.5 310.0,213.3 310.6,212.0 311.3,210.5 311.9,208.9 312.5,207.2 313.1,205.3 313.7,203.2 314.3,200.9 315.0,198.4 315.6,195.6 316.2,192.5 316.8,189.1 317.4,185.4 318.0,181.3 318.6,176.9 319.3,172.2 319.9,167.1 320.5,161.9 321.1,156.7 321.7,151.6 322.3,146.9 323.0,142.9 323.6,139.8 324.2,137.8 324.8,136.9 325.4,136.9 326.0,137.8 326.7,139.3 327.3,141.3 327.9,143.5 328.5,145.8 329.1,148.2 329.7,150.5 330.4,152.7 331.0,154.9 331.6,156.9 332.2,158.8 332.8,160.6 333.4,162.2 334.1,163.7 334.7,165.2 335.3,166.5 335.9,167.7 336.5,168.9 337.1,170.0 337.8,171.0 338.4,171.9 339.0,172.8 339.6,173.6 340.2,174.4 340.8,175.2 341.5,175.8 342.1,176.5 342.7,177.1 343.3,177.7 343.9,178.2 344.5,178.7 345.1,179.2 345.8,179.7 346.4,180.1 347.0,180.6 347.6,181.0 348.2,181.3 348.8,181.7 349.5,182.0 350.1,182.4 350.7,182.7 351.3,183.0 351.9,183.3 352.5,183.6 353.2,183.8 353.8,184.1 354.4,184.3 355.0,184.5 355.6,184.8 356.2,185.0 356.9,185.2 357.5,185.4 358.1,185.6 358.7,185.8 359.3,186.0 359.9,186.1 360.6,186.3 361.2,186.5 361.8,186.6 362.4,186.8 363.0,186.9 363.6,187.0 364.3,187.2 364.9,187.3 365.5,187.4 366.1,187.6 366.7,187.7 367.3,187.8 367.9,187.9 368.6,188.0 369.2,188.1 369.8,188.2 370.4,188.3 371.0,188.4 371.6,188.5 372.3,188.6 372.9,188.7 373.5,188.8 374.1,188.9 374.7,189.0 375.3,189.1 376.0,189.1 376.6,189.2 377.2,189.3 377.8,189.4 378.4,189.4 379.0,189.5 379.7,189.6 380.3,189.6 380.9,189.7 381.5,189.8 382.1,189.8 382.7,189.9 383.4,189.9 384.0,190.0 384.6,190.0 385.2,190.1 385.8,190.2 386.4,190.2 387.1,190.3 387.7,190.3 388.3,190.4 388.9,190.4 389.5,190.5 390.1,190.5 390.8,190.5 391.4,190.6 392.0,190.6 392.6,190.7 393.2,190.7 393.8,190.8 394.4,190.8 395.1,190.8 395.7,190.9 396.3,190.9 396.9,190.9 397.5,191.0 398.1,191.0 398.8,191.1 399.4,191.1 400.0,191.1 400.6,191.2 401.2,191.2 401.8,191.2 402.5,191.3 403.1,191.3 403.7,191.3 404.3,191.3 404.9,191.4 405.5,191.4 406.2,191.4 406.8,191.5 407.4,191.5 408.0,191.5 408.6,191.5 409.2,191.6 409.9,191.6 410.5,191.6 411.1,191.6 411.7,191.7 412.3,191.7 412.9,191.7 413.6,191.7 414.2,191.8 414.8,191.8 415.4,191.8 416.0,191.8 416.6,191.8 417.2,191.9 417.9,191.9 418.5,191.9 419.1,191.9 419.7,191.9 420.3,192.0 420.9,192.0 421.6,192.0 422.2,192.0 422.8,192.0 423.4,192.1 424.0,192.1 424.6,192.1 425.3,192.1 425.9,192.1 426.5,192.2 427.1,192.2 427.7,192.2 428.3,192.2 429.0,192.2 429.6,192.2 430.2,192.3 430.8,192.3 431.4,192.3 432.0,192.3 432.7,192.3 433.3,192.3 433.9,192.3 434.5,192.4 435.1,192.4 435.7,192.4 436.4,192.4 437.0,192.4 437.6,192.4 438.2,192.4 438.8,192.5 439.4,192.5 440.1,192.5 440.7,192.5 441.3,192.5 441.9,192.5 442.5,192.5 443.1,192.5 443.7,192.6 444.4,192.6 445.0,192.6 445.6,192.6 446.2,192.6 446.8,192.6 447.4,192.6 448.1,192.6 448.7,192.7 449.3,192.7 449.9,192.7 450.5,192.7 451.1,192.7 451.8,192.7 452.4,192.7 453.0,192.7 453.6,192.7 454.2,192.8 454.8,192.8 455.5,192.8 456.1,192.8 456.7,192.8 457.3,192.8 457.9,192.8 458.5,192.8 459.2,192.8 459.8,192.8 460.4,192.8 461.0,192.9 461.6,192.9 462.2,192.9 462.9,192.9 463.5,192.9 464.1,192.9 464.7,192.9 465.3,192.9 465.9,192.9 466.6,192.9 467.2,192.9 467.8,193.0 468.4,193.0 469.0,193.0 469.6,193.0 470.2,193.0 470.9,193.0 471.5,193.0 472.1,193.0 472.7,193.0 473.3,193.0 473.9,193.0 474.6,193.0 475.2,193.1 475.8,193.1 476.4,193.1 477.0,193.1 477.6,193.1 478.3,193.1 478.9,193.1 479.5,193.1 480.1,193.1 480.7,193.1 481.3,193.1 482.0,193.1 482.6,193.1 483.2,193.2 483.8,193.2 484.4,193.2 485.0,193.2 485.7,193.2 486.3,193.2 486.9,193.2 487.5,193.2 488.1,193.2 488.7,193.2 489.4,193.2 490.0,193.2 490.6,193.2 491.2,193.2 491.8,193.3 492.4,193.3 493.0,193.3 493.7,193.3 494.3,193.3 494.9,193.3 495.5,193.3 496.1,193.3 496.7,193.3 497.4,193.3 498.0,193.3 498.6,193.3 499.2,193.3 499.8,193.3 500.4,193.3 501.1,193.4 501.7,193.4 502.3,193.4 502.9,193.4 503.5,193.4 504.1,193.4 504.8,193.4 505.4,193.4 506.0,193.4 506.6,193.4 507.2,193.4 507.8,193.4 508.5,193.4 509.1,193.4 509.7,193.4 510.3,193.4 510.9,193.4 511.5,193.5 512.2,193.5 512.8,193.5 513.4,193.5 514.0,193.5 514.6,193.5 515.2,193.5 515.9,193.5 516.5,193.5 517.1,193.5 517.7,193.5 518.3,193.5 518.9,193.5 519.5,193.5 520.2,193.5 520.8,193.5 521.4,193.5 522.0,193.5 522.6,193.6 523.2,193.6 523.9,193.6 524.5,193.6 525.1,193.6 525.7,193.6 526.3,193.6 526.9,193.6 527.6,193.6 528.2,193.6 528.8,193.6 529.4,193.6 530.0,193.6 530.6,193.6 531.3,193.6 531.9,193.6 532.5,193.6 533.1,193.6 533.7,193.6 534.3,193.7 535.0,193.7 535.6,193.7 536.2,193.7 536.8,193.7 537.4,193.7 538.0,193.7 538.7,193.7 539.3,193.7 539.9,193.7 540.5,193.7"/>
<polyline stroke="#D95319" points="300.2,224.2 300.8,223.9 301.4,223.6 302.0,223.3 302.6,222.9 303.2,222.5 303.9,222.0 304.5,221.6 305.1,221.1 305.7,220.5 306.3,220.0 306.9,219.4 307.6,218.7 308.2,218.1 308.8,217.4 309.4,216.7 310.0,215.9 310.6,215.1 311.3,214.3 311.9,213.5 312.5,212.6 313.1,211.8 313.7,210.9 314.3,210.0 315.0,209.0 315.6,208.1 316.2,207.2 316.8,206.2 317.4,205.3 318.0,204.4 318.6,203.5 319.3,202.6 319.9,201.7 320.5,200.8 321.1,200.0 321.7,199.2 322.3,198.4 323.0,197.7 323.6,197.0 324.2,196.3 324.8,195.7 325.4,195.1 326.0,194.5 326.7,194.0 327.3,193.5 327.9,193.0 328.5,192.6 329.1,192.2 329.7,191.9 330.4,191.5 331.0,191.2 331.6,191.0 332.2,190.7 332.8,190.5 333.4,190.3 334.1,190.1 334.7,189.9 335.3,189.8 335.9,189.7 336.5,189.6 337.1,189.4 337.8,189.4 338.4,189.3 339.0,189.2 339.6,189.2 340.2,189.1 340.8,189.1 341.5,189.0 342.1,189.0 342.7,189.0 343.3,189.0 343.9,189.0 344.5,189.0 345.1,189.0 345.8,189.0 346.4,189.0 347.0,189.0 347.6,189.0 348.2,189.0 348.8,189.0 349.5,189.0 350.1,189.1 350.7,189.1 351.3,189.1 351.9,189.1 352.5,189.1 353.2,189.2 353.8,189.2 354.4,189.2 355.0,189.3 355.6,189.3 356.2,189.3 356.9,189.3 357.5,189.4 358.1,189.4 358.7,189.4 359.3,189.5 359.9,189.5 360.6,189.5 361.2,189.6 361.8,189.6 362.4,189.6 363.0,189.6 363.6,189.7 364.3,189.7 364.9,189.7 365.5,189.8 366.1,189.8 366.7,189.8 367.3,189.9 367.9,189.9 368.6,189.9 369.2,190.0 369.8,190.0 370.4,190.0 371.0,190.0 371.6,190.1 372.3,190.1 372.9,190.1 373.5,190.2 374.1,190.2 374.7,190.2 375.3,190.2 376.0,190.3 376.6,190.3 377.2,190.3 377.8,190.4 378.4,190.4 379.0,190.4 379.7,190.4 380.3,190.5 380.9,190.5 381.5,190.5 382.1,190.5 382.7,190.6 383.4,190.6 384.0,190.6 384.6,190.7 385.2,190.7 385.8,190.7 386.4,190.7 387.1,190.8 387.7,190.8 388.3,190.8 388.9,190.8 389.5,190.9 390.1,190.9 390.8,190.9 391.4,190.9 392.0,191.0 392.6,191.0 393.2,191.0 393.8,191.0 394.4,191.0 395.1,191.1 395.7,191.1 396.3,191.1 396.9,191.1 397.5,191.2 398.1,191.2 398.8,191.2 399.4,191.2 400.0,191.3 400.6,191.3 401.2,191.3 401.8,191.3 402.5,191.3 403.1,191.4 403.7,191.4 404.3,191.4 404.9,191.4 405.5,191.5 406.2,191.5 406.8,191.5 407.4,191.5 408.0,191.5 408.6,191.6 409.2,191.6 409.9,191.6 410.5,191.6 411.1,191.7 411.7,191.7 412.3,191.7 412.9,191.7 413.6,191.7 414.2,191.8 414.8,191.8 415.4,191.8 416.0,191.8 416.6,191.8 417.2,191.9 417.9,191.9 418.5,191.9 419.1,191.9 419.7,192.0 420.3,192.0 420.9,192.0 421.6,192.0 422.2,192.0 422.8,192.1 423.4,192.1 424.0,192.1 424.6,192.1 425.3,192.1 425.9,192.2 426.5,192.2 427.1,192.2 427.7,192.2 428.3,192.2 429.0,192.3 429.6,192.3 430.2,192.3 430.8,192.3 431.4,192.3 432.0,192.4 432.7,192.4 433.3,192.4 433.9,192.4 434.5,192.4 435.1,192.5 435.7,192.5 436.4,192.5 437.0,192.5 437.6,192.5 438.2,192.6 438.8,192.6 439.4,192.6 440.1,192.6 440.7,192.6 441.3,192.7 441.9,192.7 442.5,192.7 443.1,192.7 443.7,192.8 444.4,192.8 445.0,192.8 445.6,192.8 446.2,192.8 446.8,192.9 447.4,192.9 448.1,192.9 448.7,192.9 449.3,192.9 449.9,193.0 450.5,193.0 451.1,193.0 451.8,193.0 452.4,193.0 453.0,193.1 453.6,193.1 454.2,193.1 454.8,193.1 455.5,193.1 456.1,193.2 456.7,193.2 457.3,193.2 457.9,193.2 458.5,193.2 459.2,193.3 459.8,193.3 460.4,193.3 461.0,193.3 461.6,193.3 462.2,193.4 462.9,193.4 463.5,193.4 464.1,193.4 464.7,193.4 465.3,193.5 465.9,193.5 466.6,193.5 467.2,193.5 467.8,193.5 468.4,193.6 469.0,193.6 469.6,193.6 470.2,193.6 470.9,193.6 471.5,193.7 472.1,193.7 472.7,193.7 473.3,193.7 473.9,193.7 474.6,193.8 475.2,193.8 475.8,193.8 476.4,193.8 477.0,193.8 477.6,193.9 478.3,193.9 478.9,193.9 479.5,193.9 480.1,194.0 480.7,194.0 481.3,194.0 482.0,194.0 482.6,194.0 483.2,194.1 483.8,194.1 484.4,194.1 485.0,194.1 485.7,194.1 486.3,194.2 486.9,194.2 487.5,194.2 488.1,194.2 488.7,194.2 489.4,194.3 490.0,194.3 490.6,194.3 491.2,194.3 491.8,194.3 492.4,194.4 493.0,194.4 493.7,194.4 494.3,194.4 494.9,194.4 495.5,194.5 496.1,194.5 496.7,194.5 497.4,194.5 498.0,194.6 498.6,194.6 499.2,194.6 499.8,194.6 500.4,194.6 501.1,194.7 501.7,194.7 502.3,194.7 502.9,194.7 503.5,194.7 504.1,194.8 504.8,194.8 505.4,194.8 506.0,194.8 506.6,194.8 507.2,194.9 507.8,194.9 508.5,194.9 509.1,194.9 509.7,194.9 510.3,195.0 510.9,195.0 511.5,195.0 512.2,195.0 512.8,195.1 513.4,195.1 514.0,195.1 514.6,195.1 515.2,195.1 515.9,195.2 516.5,195.2 517.1,195.2 517.7,195.2 518.3,195.2 518.9,195.3 519.5,195.3 520.2,195.3 520.8,195.3 521.4,195.3 522.0,195.4 522.6,195.4 523.2,195.4 523.9,195.4 524.5,195.4 525.1,195.5 525.7,195.5 526.3,195.5 526.9,195.5 527.6,195.6 528.2,195.6 528.8,195.6 529.4,195.6 530.0,195.6 530.6,195.7 531.3,195.7 531.9,195.7 532.5,195.7 533.1,195.7 533.7,195.8 534.3,195.8 535.0,195.8 535.6,195.8 536.2,195.8 536.8,195.9 537.4,195.9 538.0,195.9 538.7,195.9 539.3,196.0 539.9,196.0 540.5,196.0"/>
<polyline stroke="#EDB120" points="300.8,224.0 301.4,223.8 302.0,223.5 302.6,223.1 303.2,222.8 303.9,222.4 304.5,222.1 305.1,221.7 305.7,221.3 306.3,220.9 306.9,220.5 307.6,220.1 308.2,219.6 308.8,219.2 309.4,218.7 310.0,218.3 310.6,217.8 311.3,217.4 311.9,216.9 312.5,216.4 313.1,216.0 313.7,215.5 314.3,215.0 315.0,214.6 315.6,214.1 316.2,213.7 316.8,213.2 317.4,212.7 318.0,212.3 318.6,211.8 319.3,211.4 319.9,211.0 320.5,210.5 321.1,210.1 321.7,209.7 322.3,209.2 323.0,208.8 323.6,208.4 324.2,208.0 324.8,207.6 325.4,207.2 326.0,206.8 326.7,206.5 327.3,206.1 327.9,205.7 328.5,205.4 329.1,205.0 329.7,204.7 330.4,204.3 331.0,204.0 331.6,203.7 332.2,203.3 332.8,203.0 333.4,202.7 334.1,202.4 334.7,202.1 335.3,201.8 335.9,201.5 336.5,201.2 337.1,201.0 337.8,200.7 338.4,200.4 339.0,200.2 339.6,199.9 340.2,199.7 340.8,199.4 341.5,199.2 342.1,199.0 342.7,198.8 343.3,198.5 343.9,198.3 344.5,198.1 345.1,197.9 345.8,197.7 346.4,197.5 347.0,197.3 347.6,197.1 348.2,197.0 348.8,196.8 349.5,196.6 350.1,196.4 350.7,196.3 351.3,196.1 351.9,196.0 352.5,195.8 353.2,195.7 353.8,195.5 354.4,195.4 355.0,195.2 355.6,195.1 356.2,195.0 356.9,194.8 357.5,194.7 358.1,194.6 358.7,194.5 359.3,194.4 359.9,194.2 360.6,194.1 361.2,194.0 361.8,193.9 362.4,193.8 363.0,193.7 363.6,193.6 364.3,193.6 364.9,193.5 365.5,193.4 366.1,193.3 366.7,193.2 367.3,193.1 367.9,193.1 368.6,193.0 369.2,192.9 369.8,192.8 370.4,192.8 371.0,192.7 371.6,192.7 372.3,192.6 372.9,192.5 373.5,192.5 374.1,192.4 374.7,192.4 375.3,192.3 376.0,192.3 376.6,192.2 377.2,192.2 377.8,192.1 378.4,192.1 379.0,192.1 379.7,192.0 380.3,192.0 380.9,191.9 381.5,191.9 382.1,191.9 382.7,191.9 383.4,191.8 384.0,191.8 384.6,191.8 385.2,191.7 385.8,191.7 386.4,191.7 387.1,191.7 387.7,191.7 388.3,191.6 388.9,191.6 389.5,191.6 390.1,191.6 390.8,191.6 391.4,191.6 392.0,191.6 392.6,191.6 393.2,191.5 393.8,191.5 394.4,191.5 395.1,191.5 395.7,191.5 396.3,191.5 396.9,191.5 397.5,191.5 398.1,191.5 398.8,191.5 399.4,191.5 400.0,191.5 400.6,191.5 401.2,191.5 401.8,191.5 402.5,191.5 403.1,191.5 403.7,191.5 404.3,191.6 404.9,191.6 405.5,191.6 406.2,191.6 406.8,191.6 407.4,191.6 408.0,191.6 408.6,191.6 409.2,191.6 409.9,191.7 410.5,191.7 411.1,191.7 411.7,191.7 412.3,191.7 412.9,191.7 413.6,191.7 414.2,191.8 414.8,191.8 415.4,191.8 416.0,191.8 416.6,191.8 417.2,191.9 417.9,191.9 418.5,191.9 419.1,191.9 419.7,192.0 420.3,192.0 420.9,192.0 421.6,192.0 422.2,192.1 422.8,192.1 423.4,192.1 424.0,192.1 424.6,192.2 425.3,192.2 425.9,192.2 426.5,192.2 427.1,192.3 427.7,192.3 428.3,192.3 429.0,192.3 429.6,192.4 430.2,192.4 430.8,192.4 431.4,192.5 432.0,192.5 432.7,192.5 433.3,192.6 433.9,192.6 434.5,192.6 435.1,192.7 435.7,192.7 436.4,192.7 437.0,192.8 437.6,192.8 438.2,192.8 438.8,192.9 439.4,192.9 440.1,192.9 440.7,193.0 441.3,193.0 441.9,193.0 442.5,193.1 443.1,193.1 443.7,193.1 444.4,193.2 445.0,193.2 445.6,193.2 446.2,193.3 446.8,193.3 447.4,193.3 448.1,193.4 448.7,193.4 449.3,193.5 449.9,193.5 450.5,193.5 451.1,193.6 451.8,193.6 452.4,193.6 453.0,193.7 453.6,193.7 454.2,193.8 454.8,193.8 455.5,193.8 456.1,193.9 456.7,193.9 457.3,193.9 457.9,194.0 458.5,194.0 459.2,194.1 459.8,194.1 460.4,194.1 461.0,194.2 461.6,194.2 462.2,194.3 462.9,194.3 463.5,194.3 464.1,194.4 464.7,194.4 465.3,194.5 465.9,194.5 466.6,194.5 467.2,194.6 467.8,194.6 468.4,194.7 469.0,194.7 469.6,194.7 470.2,194.8 470.9,194.8 471.5,194.9 472.1,194.9 472.7,194.9 473.3,195.0 473.9,195.0 474.6,195.1 475.2,195.1 475.8,195.2 476.4,195.2 477.0,195.2 477.6,195.3 478.3,195.3 478.9,195.4 479.5,195.4 480.1,195.4 480.7,195.5 481.3,195.5 482.0,195.6 482.6,195.6 483.2,195.6 483.8,195.7 484.4,195.7 485.0,195.8 485.7,195.8 486.3,195.9 486.9,195.9 487.5,195.9 488.1,196.0 488.7,196.0 489.4,196.1 490.0,196.1 490.6,196.1 491.2,196.2 491.8,196.2 492.4,196.3 493.0,196.3 493.7,196.4 494.3,196.4 494.9,196.4 495.5,196.5 496.1,196.5 496.7,196.6 497.4,196.6 498.0,196.6 498.6,196.7 499.2,196.7 499.8,196.8 500.4,196.8 501.1,196.8 501.7,196.9 502.3,196.9 502.9,197.0 503.5,197.0 504.1,197.1 504.8,197.1 505.4,197.1 506.0,197.2 506.6,197.2 507.2,197.3 507.8,197.3 508.5,197.3 509.1,197.4 509.7,197.4 510.3,197.5 510.9,197.5 511.5,197.5 512.2,197.6 512.8,197.6 513.4,197.7 514.0,197.7 514.6,197.7 515.2,197.8 515.9,197.8 516.5,197.9 517.1,197.9 517.7,197.9 518.3,198.0 518.9,198.0 519.5,198.1 520.2,198.1 520.8,198.2 521.4,198.2 522.0,198.2 522.6,198.3 523.2,198.3 523.9,198.4 524.5,198.4 525.1,198.4 525.7,198.5 526.3,198.5 526.9,198.5 527.6,198.6 528.2,198.6 528.8,198.7 529.4,198.7 530.0,198.7 530.6,198.8 531.3,198.8 531.9,198.9 532.5,198.9 533.1,198.9 533.7,199.0 534.3,199.0 535.0,199.1 535.6,199.1 536.2,199.1 536.8,199.2 537.4,199.2 538.0,199.3 538.7,199.3 539.3,199.3 539.9,199.4 540.5,199.4"/>
<polyline stroke="#7E2F8E" points="301.4,223.9 302.0,223.7 302.6,223.4 303.2,223.1 303.9,222.9 304.5,222.6 305.1,222.3 305.7,222.0 306.3,221.7 306.9,221.4 307.6,221.1 308.2,220.8 308.8,220.5 309.4,220.2 310.0,219.9 310.6,219.6 311.3,219.3 311.9,219.0 312.5,218.7 313.1,218.4 313.7,218.1 314.3,217.8 315.0,217.5 315.6,217.2 316.2,216.9 316.8,216.6 317.4,216.3 318.0,216.0 318.6,215.7 319.3,215.4 319.9,215.1 320.5,214.8 321.1,214.5 321.7,214.2 322.3,213.9 323.0,213.6 323.6,213.3 324.2,213.0 324.8,212.8 325.4,212.5 326.0,212.2 326.7,211.9 327.3,211.6 327.9,211.3 328.5,211.1 329.1,210.8 329.7,210.5 330.4,210.2 331.0,209.9 331.6,209.7 332.2,209.4 332.8,209.1 333.4,208.9 334.1,208.6 334.7,208.3 335.3,208.1 335.9,207.8 336.5,207.5 337.1,207.3 337.8,207.0 338.4,206.7 339.0,206.5 339.6,206.2 340.2,206.0 340.8,205.7 341.5,205.5 342.1,205.2 342.7,205.0 343.3,204.7 343.9,204.5 344.5,204.2 345.1,204.0 345.8,203.8 346.4,203.5 347.0,203.3 347.6,203.1 348.2,202.8 348.8,202.6 349.5,202.4 350.1,202.1 350.7,201.9 351.3,201.7 351.9,201.5 352.5,201.3 353.2,201.0 353.8,200.8 354.4,200.6 355.0,200.4 355.6,200.2 356.2,200.0 356.9,199.8 357.5,199.6 358.1,199.4 358.7,199.2 359.3,199.0 359.9,198.8 360.6,198.6 361.2,198.4 361.8,198.2 362.4,198.1 363.0,197.9 363.6,197.7 364.3,197.5 364.9,197.4 365.5,197.2 366.1,197.0 366.7,196.9 367.3,196.7 367.9,196.5 368.6,196.4 369.2,196.2 369.8,196.1 370.4,195.9 371.0,195.8 371.6,195.6 372.3,195.5 372.9,195.4 373.5,195.2 374.1,195.1 374.7,195.0 375.3,194.8 376.0,194.7 376.6,194.6 377.2,194.5 377.8,194.4 378.4,194.2 379.0,194.1 379.7,194.0 380.3,193.9 380.9,193.8 381.5,193.7 382.1,193.6 382.7,193.5 383.4,193.4 384.0,193.3 384.6,193.3 385.2,193.2 385.8,193.1 386.4,193.0 387.1,192.9 387.7,192.9 388.3,192.8 388.9,192.7 389.5,192.7 390.1,192.6 390.8,192.5 391.4,192.5 392.0,192.4 392.6,192.4 393.2,192.3 393.8,192.3 394.4,192.2 395.1,192.2 395.7,192.1 396.3,192.1 396.9,192.0 397.5,192.0 398.1,192.0 398.8,191.9 399.4,191.9 400.0,191.9 400.6,191.9 401.2,191.8 401.8,191.8 402.5,191.8 403.1,191.8 403.7,191.8 404.3,191.8 404.9,191.7 405.5,191.7 406.2,191.7 406.8,191.7 407.4,191.7 408.0,191.7 408.6,191.7 409.2,191.7 409.9,191.7 410.5,191.7 411.1,191.7 411.7,191.7 412.3,191.7 412.9,191.8 413.6,191.8 414.2,191.8 414.8,191.8 415.4,191.8 416.0,191.8 416.6,191.8 417.2,191.9 417.9,191.9 418.5,191.9 419.1,191.9 419.7,192.0 420.3,192.0 420.9,192.0 421.6,192.0 422.2,192.1 422.8,192.1 423.4,192.1 424.0,192.2 424.6,192.2 425.3,192.2 425.9,192.3 426.5,192.3 427.1,192.4 427.7,192.4 428.3,192.4 429.0,192.5 429.6,192.5 430.2,192.6 430.8,192.6 431.4,192.6 432.0,192.7 432.7,192.7 433.3,192.8 433.9,192.8 434.5,192.9 435.1,192.9 435.7,193.0 436.4,193.0 437.0,193.1 437.6,193.1 438.2,193.2 438.8,193.2 439.4,193.3 440.1,193.3 440.7,193.4 441.3,193.4 441.9,193.5 442.5,193.6 443.1,193.6 443.7,193.7 444.4,193.7 445.0,193.8 445.6,193.8 446.2,193.9 446.8,194.0 447.4,194.0 448.1,194.1 448.7,194.1 449.3,194.2 449.9,194.2 450.5,194.3 451.1,194.4 451.8,194.4 452.4,194.5 453.0,194.6 453.6,194.6 454.2,194.7 454.8,194.7 455.5,194.8 456.1,194.9 456.7,194.9 457.3,195.0 457.9,195.0 458.5,195.1 459.2,195.2 459.8,195.2 460.4,195.3 461.0,195.4 461.6,195.4 462.2,195.5 462.9,195.5 463.5,195.6 464.1,195.7 464.7,195.7 465.3,195.8 465.9,195.9 466.6,195.9 467.2,196.0 467.8,196.1 468.4,196.1 469.0,196.2 469.6,196.2 470.2,196.3 470.9,196.4 471.5,196.4 472.1,196.5 472.7,196.6 473.3,196.6 473.9,196.7 474.6,196.8 475.2,196.8 475.8,196.9 476.4,196.9 477.0,197.0 477.6,197.1 478.3,197.1 478.9,197.2 479.5,197.3 480.1,197.3 480.7,197.4 481.3,197.5 482.0,197.5 482.6,197.6 483.2,197.6 483.8,197.7 484.4,197.8 485.0,197.8 485.7,197.9 486.3,198.0 486.9,198.0 487.5,198.1 488.1,198.1 488.7,198.2 489.4,198.3 490.0,198.3 490.6,198.4 491.2,198.4 491.8,198.5 492.4,198.6 493.0,198.6 493.7,198.7 494.3,198.8 494.9,198.8 495.5,198.9 496.1,198.9 496.7,199.0 497.4,199.1 498.0,199.1 498.6,199.2 499.2,199.2 499.8,199.3 500.4,199.4 501.1,199.4 501.7,199.5 502.3,199.5 502.9,199.6 503.5,199.6 504.1,199.7 504.8,199.8 505.4,199.8 506.0,199.9 506.6,199.9 507.2,200.0 507.8,200.0 508.5,200.1 509.1,200.2 509.7,200.2 510.3,200.3 510.9,200.3 511.5,200.4 512.2,200.4 512.8,200.5 513.4,200.6 514.0,200.6 514.6,200.7 515.2,200.7 515.9,200.8 516.5,200.8 517.1,200.9 517.7,200.9 518.3,201.0 518.9,201.1 519.5,201.1 520.2,201.2 520.8,201.2 521.4,201.3 522.0,201.3 522.6,201.4 523.2,201.4 523.9,201.5 524.5,201.5 525.1,201.6 525.7,201.6 526.3,201.7 526.9,201.7 527.6,201.8 528.2,201.8 528.8,201.9 529.4,202.0 530.0,202.0 530.6,202.1 531.3,202.1 531.9,202.2 532.5,202.2 533.1,202.3 533.7,202.3 534.3,202.4 535.0,202.4 535.6,202.5 536.2,202.5 536.8,202.6 537.4,202.6 538.0,202.7 538.7,202.7 539.3,202.8 539.9,202.8 540.5,202.8"/>
<polyline stroke="#17851F" points="304.5,223.0 305.1,222.8 305.7,222.6 306.3,222.3 306.9,222.1 307.6,221.9 308.2,221.7 308.8,221.4 309.4,221.2 310.0,221.0 310.6,220.8 311.3,220.5 311.9,220.3 312.5,220.1 313.1,219.9 313.7,219.6 314.3,219.4 315.0,219.2 315.6,219.0 316.2,218.7 316.8,218.5 317.4,218.3 318.0,218.1 318.6,217.8 319.3,217.6 319.9,217.4 320.5,217.2 321.1,216.9 321.7,216.7 322.3,216.5 323.0,216.3 323.6,216.1 324.2,215.8 324.8,215.6 325.4,215.4 326.0,215.2 326.7,214.9 327.3,214.7 327.9,214.5 328.5,214.3 329.1,214.0 329.7,213.8 330.4,213.6 331.0,213.4 331.6,213.1 332.2,212.9 332.8,212.7 333.4,212.4 334.1,212.2 334.7,212.0 335.3,211.8 335.9,211.5 336.5,211.3 337.1,211.1 337.8,210.8 338.4,210.6 339.0,210.4 339.6,210.2 340.2,209.9 340.8,209.7 341.5,209.5 342.1,209.2 342.7,209.0 343.3,208.8 343.9,208.6 344.5,208.3 345.1,208.1 345.8,207.9 346.4,207.6 347.0,207.4 347.6,207.2 348.2,206.9 348.8,206.7 349.5,206.5 350.1,206.2 350.7,206.0 351.3,205.8 351.9,205.6 352.5,205.3 353.2,205.1 353.8,204.9 354.4,204.6 355.0,204.4 355.6,204.2 356.2,204.0 356.9,203.7 357.5,203.5 358.1,203.3 358.7,203.1 359.3,202.8 359.9,202.6 360.6,202.4 361.2,202.2 361.8,202.0 362.4,201.7 363.0,201.5 363.6,201.3 364.3,201.1 364.9,200.9 365.5,200.7 366.1,200.4 366.7,200.2 367.3,200.0 367.9,199.8 368.6,199.6 369.2,199.4 369.8,199.2 370.4,199.0 371.0,198.8 371.6,198.6 372.3,198.4 372.9,198.2 373.5,198.0 374.1,197.8 374.7,197.6 375.3,197.5 376.0,197.3 376.6,197.1 377.2,196.9 377.8,196.7 378.4,196.6 379.0,196.4 379.7,196.2 380.3,196.1 380.9,195.9 381.5,195.7 382.1,195.6 382.7,195.4 383.4,195.3 384.0,195.1 384.6,195.0 385.2,194.8 385.8,194.7 386.4,194.6 387.1,194.4 387.7,194.3 388.3,194.2 388.9,194.0 389.5,193.9 390.1,193.8 390.8,193.7 391.4,193.6 392.0,193.5 392.6,193.4 393.2,193.3 393.8,193.2 394.4,193.1 395.1,193.0 395.7,192.9 396.3,192.8 396.9,192.7 397.5,192.6 398.1,192.6 398.8,192.5 399.4,192.4 400.0,192.4 400.6,192.3 401.2,192.3 401.8,192.2 402.5,192.2 403.1,192.1 403.7,192.1 404.3,192.0 404.9,192.0 405.5,192.0 406.2,191.9 406.8,191.9 407.4,191.9 408.0,191.8 408.6,191.8 409.2,191.8 409.9,191.8 410.5,191.8 411.1,191.8 411.7,191.8 412.3,191.8 412.9,191.8 413.6,191.8 414.2,191.8 414.8,191.8 415.4,191.8 416.0,191.8 416.6,191.8 417.2,191.9 417.9,191.9 418.5,191.9 419.1,191.9 419.7,192.0 420.3,192.0 420.9,192.0 421.6,192.1 422.2,192.1 422.8,192.1 423.4,192.2 424.0,192.2 424.6,192.3 425.3,192.3 425.9,192.4 426.5,192.4 427.1,192.5 427.7,192.5 428.3,192.6 429.0,192.6 429.6,192.7 430.2,192.8 430.8,192.8 431.4,192.9 432.0,192.9 432.7,193.0 433.3,193.1 433.9,193.1 434.5,193.2 435.1,193.3 435.7,193.4 436.4,193.4 437.0,193.5 437.6,193.6 438.2,193.6 438.8,193.7 439.4,193.8 440.1,193.9 440.7,194.0 441.3,194.0 441.9,194.1 442.5,194.2 443.1,194.3 443.7,194.3 444.4,194.4 445.0,194.5 445.6,194.6 446.2,194.7 446.8,194.8 447.4,194.8 448.1,194.9 448.7,195.0 449.3,195.1 449.9,195.2 450.5,195.3 451.1,195.4 451.8,195.4 452.4,195.5 453.0,195.6 453.6,195.7 454.2,195.8 454.8,195.9 455.5,196.0 456.1,196.0 456.7,196.1 457.3,196.2 457.9,196.3 458.5,196.4 459.2,196.5 459.8,196.6 460.4,196.7 461.0,196.7 461.6,196.8 462.2,196.9 462.9,197.0 463.5,197.1 464.1,197.2 464.7,197.3 465.3,197.3 465.9,197.4 466.6,197.5 467.2,197.6 467.8,197.7 468.4,197.8 469.0,197.9 469.6,197.9 470.2,198.0 470.9,198.1 471.5,198.2 472.1,198.3 472.7,198.4 473.3,198.5 473.9,198.5 474.6,198.6 475.2,198.7 475.8,198.8 476.4,198.9 477.0,199.0 477.6,199.0 478.3,199.1 478.9,199.2 479.5,199.3 480.1,199.4 480.7,199.4 481.3,199.5 482.0,199.6 482.6,199.7 483.2,199.8 483.8,199.8 484.4,199.9 485.0,200.0 485.7,200.1 486.3,200.2 486.9,200.2 487.5,200.3 488.1,200.4 488.7,200.5 489.4,200.6 490.0,200.6 490.6,200.7 491.2,200.8 491.8,200.9 492.4,200.9 493.0,201.0 493.7,201.1 494.3,201.2 494.9,201.2 495.5,201.3 496.1,201.4 496.7,201.5 497.4,201.5 498.0,201.6 498.6,201.7 499.2,201.7 499.8,201.8 500.4,201.9 501.1,202.0 501.7,202.0 502.3,202.1 502.9,202.2 503.5,202.2 504.1,202.3 504.8,202.4 505.4,202.4 506.0,202.5 506.6,202.6 507.2,202.6 507.8,202.7 508.5,202.8 509.1,202.8 509.7,202.9 510.3,203.0 510.9,203.0 511.5,203.1 512.2,203.2 512.8,203.2 513.4,203.3 514.0,203.4 514.6,203.4 515.2,203.5 515.9,203.6 516.5,203.6 517.1,203.7 517.7,203.7 518.3,203.8 518.9,203.9 519.5,203.9 520.2,204.0 520.8,204.1 521.4,204.1 522.0,204.2 522.6,204.2 523.2,204.3 523.9,204.4 524.5,204.4 525.1,204.5 525.7,204.5 526.3,204.6 526.9,204.6 527.6,204.7 528.2,204.8 528.8,204.8 529.4,204.9 530.0,204.9 530.6,205.0 531.3,205.0 531.9,205.1 532.5,205.2 533.1,205.2 533.7,205.3 534.3,205.3 535.0,205.4 535.6,205.4 536.2,205.5 536.8,205.5 537.4,205.6 538.0,205.6 538.7,205.7 539.3,205.7 539.9,205.8 540.5,205.9"/>
<polyline stroke="#4DBEEE" stroke-width="1.8" points="294.0,225.6 294.6,225.6 295.2,225.5 295.8,225.5 296.5,225.4 297.1,225.3 297.7,225.2 298.3,225.0 298.9,224.9 299.5,224.7 300.2,224.6 300.8,224.4 301.4,224.2 302.0,224.0 302.6,223.9 303.2,223.7 303.9,223.5 304.5,223.3 305.1,223.2 305.7,223.0 306.3,222.8 306.9,222.6 307.6,222.4 308.2,222.3 308.8,222.1 309.4,221.9 310.0,221.7 310.6,221.6 311.3,221.4 311.9,221.2 312.5,221.0 313.1,220.8 313.7,220.7 314.3,220.5 315.0,220.3 315.6,220.1 316.2,220.0 316.8,219.8 317.4,219.6 318.0,219.4 318.6,219.2 319.3,219.1 319.9,218.9 320.5,218.7 321.1,218.5 321.7,218.3 322.3,218.2 323.0,218.0 323.6,217.8 324.2,217.6 324.8,217.4 325.4,217.2 326.0,217.1 326.7,216.9 327.3,216.7 327.9,216.5 328.5,216.3 329.1,216.1 329.7,215.9 330.4,215.7 331.0,215.6 331.6,215.4 332.2,215.2 332.8,215.0 333.4,214.8 334.1,214.6 334.7,214.4 335.3,214.2 335.9,214.0 336.5,213.8 337.1,213.6 337.8,213.4 338.4,213.2 339.0,213.0 339.6,212.8 340.2,212.6 340.8,212.4 341.5,212.2 342.1,212.0 342.7,211.8 343.3,211.6 343.9,211.4 344.5,211.2 345.1,211.0 345.8,210.7 346.4,210.5 347.0,210.3 347.6,210.1 348.2,209.9 348.8,209.7 349.5,209.5 350.1,209.2 350.7,209.0 351.3,208.8 351.9,208.6 352.5,208.4 353.2,208.1 353.8,207.9 354.4,207.7 355.0,207.5 355.6,207.3 356.2,207.0 356.9,206.8 357.5,206.6 358.1,206.4 358.7,206.1 359.3,205.9 359.9,205.7 360.6,205.4 361.2,205.2 361.8,205.0 362.4,204.8 363.0,204.5 363.6,204.3 364.3,204.1 364.9,203.8 365.5,203.6 366.1,203.4 366.7,203.1 367.3,202.9 367.9,202.7 368.6,202.5 369.2,202.2 369.8,202.0 370.4,201.8 371.0,201.5 371.6,201.3 372.3,201.1 372.9,200.8 373.5,200.6 374.1,200.4 374.7,200.2 375.3,199.9 376.0,199.7 376.6,199.5 377.2,199.3 377.8,199.1 378.4,198.8 379.0,198.6 379.7,198.4 380.3,198.2 380.9,198.0 381.5,197.8 382.1,197.6 382.7,197.4 383.4,197.2 384.0,197.0 384.6,196.8 385.2,196.6 385.8,196.4 386.4,196.2 387.1,196.0 387.7,195.8 388.3,195.7 388.9,195.5 389.5,195.3 390.1,195.1 390.8,195.0 391.4,194.8 392.0,194.6 392.6,194.5 393.2,194.3 393.8,194.2 394.4,194.0 395.1,193.9 395.7,193.8 396.3,193.6 396.9,193.5 397.5,193.4 398.1,193.3 398.8,193.2 399.4,193.1 400.0,192.9 400.6,192.8 401.2,192.8 401.8,192.7 402.5,192.6 403.1,192.5 403.7,192.4 404.3,192.3 404.9,192.3 405.5,192.2 406.2,192.2 406.8,192.1 407.4,192.1 408.0,192.0 408.6,192.0 409.2,191.9 409.9,191.9 410.5,191.9 411.1,191.9 411.7,191.8 412.3,191.8 412.9,191.8 413.6,191.8 414.2,191.8 414.8,191.8 415.4,191.8 416.0,191.8 416.6,191.8 417.2,191.9 417.9,191.9 418.5,191.9 419.1,191.9 419.7,192.0 420.3,192.0 420.9,192.1 421.6,192.1 422.2,192.1 422.8,192.2 423.4,192.3 424.0,192.3 424.6,192.4 425.3,192.4 425.9,192.5 426.5,192.6 427.1,192.6 427.7,192.7 428.3,192.8 429.0,192.8 429.6,192.9 430.2,193.0 430.8,193.1 431.4,193.2 432.0,193.3 432.7,193.3 433.3,193.4 433.9,193.5 434.5,193.6 435.1,193.7 435.7,193.8 436.4,193.9 437.0,194.0 437.6,194.1 438.2,194.2 438.8,194.3 439.4,194.4 440.1,194.5 440.7,194.6 441.3,194.7 441.9,194.8 442.5,194.9 443.1,195.0 443.7,195.1 444.4,195.2 445.0,195.4 445.6,195.5 446.2,195.6 446.8,195.7 447.4,195.8 448.1,195.9 448.7,196.0 449.3,196.1 449.9,196.2 450.5,196.3 451.1,196.5 451.8,196.6 452.4,196.7 453.0,196.8 453.6,196.9 454.2,197.0 454.8,197.1 455.5,197.2 456.1,197.3 456.7,197.5 457.3,197.6 457.9,197.7 458.5,197.8 459.2,197.9 459.8,198.0 460.4,198.1 461.0,198.2 461.6,198.3 462.2,198.4 462.9,198.5 463.5,198.7 464.1,198.8 464.7,198.9 465.3,199.0 465.9,199.1 466.6,199.2 467.2,199.3 467.8,199.4 468.4,199.5 469.0,199.6 469.6,199.7 470.2,199.8 470.9,199.9 471.5,200.0 472.1,200.1 472.7,200.2 473.3,200.3 473.9,200.4 474.6,200.5 475.2,200.6 475.8,200.7 476.4,200.8 477.0,200.9 477.6,201.0 478.3,201.1 478.9,201.2 479.5,201.3 480.1,201.4 480.7,201.5 481.3,201.6 482.0,201.7 482.6,201.8 483.2,201.9 483.8,201.9 484.4,202.0 485.0,202.1 485.7,202.2 486.3,202.3 486.9,202.4 487.5,202.5 488.1,202.6 488.7,202.7 489.4,202.7 490.0,202.8 490.6,202.9 491.2,203.0 491.8,203.1 492.4,203.2 493.0,203.3 493.7,203.3 494.3,203.4 494.9,203.5 495.5,203.6 496.1,203.7 496.7,203.7 497.4,203.8 498.0,203.9 498.6,204.0 499.2,204.1 499.8,204.1 500.4,204.2 501.1,204.3 501.7,204.4 502.3,204.4 502.9,204.5 503.5,204.6 504.1,204.7 504.8,204.7 505.4,204.8 506.0,204.9 506.6,205.0 507.2,205.0 507.8,205.1 508.5,205.2 509.1,205.2 509.7,205.3 510.3,205.4 510.9,205.5 511.5,205.5 512.2,205.6 512.8,205.7 513.4,205.7 514.0,205.8 514.6,205.9 515.2,205.9 515.9,206.0 516.5,206.1 517.1,206.1 517.7,206.2 518.3,206.3 518.9,206.3 519.5,206.4 520.2,206.5 520.8,206.5 521.4,206.6 522.0,206.6 522.6,206.7 523.2,206.8 523.9,206.8 524.5,206.9 525.1,206.9 525.7,207.0 526.3,207.1 526.9,207.1 527.6,207.2 528.2,207.2 528.8,207.3 529.4,207.4 530.0,207.4 530.6,207.5 531.3,207.5 531.9,207.6 532.5,207.6 533.1,207.7 533.7,207.7 534.3,207.8 535.0,207.9 535.6,207.9 536.2,208.0 536.8,208.0 537.4,208.1 538.0,208.1 538.7,208.2 539.3,208.2 539.9,208.3 540.5,208.3"/>
<path d="M294.0 188.49H540.5" stroke="#0AFA0A" stroke-width="1.45" stroke-dasharray="5.6 5.6"/>
<path d="M294.0 195.24H540.5" stroke="#FF0A0A" stroke-width="1.45" stroke-dasharray="5.6 5.6"/>
</g>
<text class="tk" x="294.0" y="238.6" text-anchor="middle">0</text>
<text class="tk" x="318.6" y="238.6" text-anchor="middle">0.2</text>
<text class="tk" x="343.3" y="238.6" text-anchor="middle">0.4</text>
<text class="tk" x="368.0" y="238.6" text-anchor="middle">0.6</text>
<text class="tk" x="392.6" y="238.6" text-anchor="middle">0.8</text>
<text class="tk" x="417.2" y="238.6" text-anchor="middle">1</text>
<text class="tk" x="441.9" y="238.6" text-anchor="middle">1.2</text>
<text class="tk" x="466.6" y="238.6" text-anchor="middle">1.4</text>
<text class="tk" x="491.2" y="238.6" text-anchor="middle">1.6</text>
<text class="tk" x="515.9" y="238.6" text-anchor="middle">1.8</text>
<text class="tk" x="540.5" y="238.6" text-anchor="middle">2</text>
<text class="al" x="416.9" y="250.6" text-anchor="middle" style="font-size:12.3px">Normalized Frequency</text>
<text class="bi" transform="translate(400.4 137.7) scale(1 0.97)" fill="#A2142F" stroke="#A2142F">m=17</text>
<text class="bi" transform="translate(442.8 176.1) scale(1 0.9)" fill="#0AFA0A" stroke="#0AFA0A">max gain</text>
<text class="bi" transform="translate(396.4 214.0) scale(1 0.9)" fill="#FF0A0A" stroke="#FF0A0A">min gain</text>
<rect x="513.9" y="123.9" width="26.600000000000023" height="60.0" fill="#fff" stroke="#c8c8c8" stroke-width="0.6"/>
<path d="M513.9 135.5H540.5" stroke="#c8c8c8" stroke-width="0.6"/>
<text class="lg" x="519.1" y="132.0" style="font-size:7.4px;stroke-width:0.45px">Q<tspan style="font-size:5.7px;stroke-width:0.3px" dx="0.3" dy="2.3">load</tspan></text>
<path d="M515.1999999999999 140.40h13.8" stroke="#0072BD" stroke-width="1.75"/>
<text class="lg" x="530.6999999999999" y="142.60">0.1</text>
<path d="M515.1999999999999 148.20h13.8" stroke="#D95319" stroke-width="1.75"/>
<text class="lg" x="530.6999999999999" y="150.40">0.3</text>
<path d="M515.1999999999999 156.00h13.8" stroke="#EDB120" stroke-width="1.75"/>
<text class="lg" x="530.6999999999999" y="158.20">0.5</text>
<path d="M515.1999999999999 163.80h13.8" stroke="#7E2F8E" stroke-width="1.75"/>
<text class="lg" x="530.6999999999999" y="166.00">0.7</text>
<path d="M515.1999999999999 171.60h13.8" stroke="#17851F" stroke-width="1.75"/>
<text class="lg" x="530.6999999999999" y="173.80">0.9</text>
<path d="M515.1999999999999 179.40h13.8" stroke="#4DBEEE" stroke-width="1.75"/>
<text class="lg" x="530.6999999999999" y="181.60">1.1</text>
</g>
</svg>
</body></html>
